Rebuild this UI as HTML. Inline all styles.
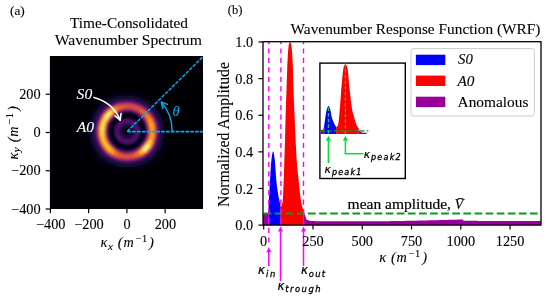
<!DOCTYPE html>
<html><head><meta charset="utf-8"><title>WRF figure</title>
<style>html,body{margin:0;padding:0;background:#fff}svg{display:block}text{font-family:"Liberation Serif", serif;fill:#000;stroke:#000;stroke-width:0.1px}.m{font-family:"DejaVu Sans",sans-serif;font-style:italic}.sb{font-family:"DejaVu Sans",sans-serif;font-style:italic;stroke:#000;stroke-width:0.3px}.si{font-style:italic}.bd{stroke:#000;stroke-width:0.2px}</style></head><body>
<svg width="550" height="299" viewBox="0 0 550 299">
<rect width="550" height="299" fill="#fff"/>
<defs>
<radialGradient id="g0" gradientUnits="userSpaceOnUse" cx="127.2" cy="131.4" r="42.0"><stop offset="0.0000" stop-color="#010108"/><stop offset="0.0238" stop-color="#010108"/><stop offset="0.0476" stop-color="#02020c"/><stop offset="0.0714" stop-color="#07051b"/><stop offset="0.0952" stop-color="#150b37"/><stop offset="0.1190" stop-color="#190c3e"/><stop offset="0.1429" stop-color="#150b37"/><stop offset="0.1667" stop-color="#1b0c41"/><stop offset="0.1905" stop-color="#380962"/><stop offset="0.2143" stop-color="#57106e"/><stop offset="0.2381" stop-color="#64156e"/><stop offset="0.2619" stop-color="#57106e"/><stop offset="0.2857" stop-color="#380962"/><stop offset="0.3095" stop-color="#160b39"/><stop offset="0.3333" stop-color="#07051b"/><stop offset="0.3571" stop-color="#02020e"/><stop offset="0.3810" stop-color="#02020c"/><stop offset="0.4048" stop-color="#040312"/><stop offset="0.4286" stop-color="#09061f"/><stop offset="0.4524" stop-color="#1c0c43"/><stop offset="0.4762" stop-color="#4c0c6b"/><stop offset="0.5000" stop-color="#8c2369"/><stop offset="0.5238" stop-color="#cf4446"/><stop offset="0.5476" stop-color="#f47918"/><stop offset="0.5714" stop-color="#fca108"/><stop offset="0.5952" stop-color="#fcac11"/><stop offset="0.6190" stop-color="#fca50a"/><stop offset="0.6429" stop-color="#f8850f"/><stop offset="0.6667" stop-color="#e05536"/><stop offset="0.6905" stop-color="#ab2f5e"/><stop offset="0.7143" stop-color="#741a6e"/><stop offset="0.7381" stop-color="#4c0c6b"/><stop offset="0.7619" stop-color="#320a5e"/><stop offset="0.7857" stop-color="#230c4c"/><stop offset="0.8095" stop-color="#190c3e"/><stop offset="0.8333" stop-color="#120a32"/><stop offset="0.8571" stop-color="#0d0829"/><stop offset="0.8810" stop-color="#09061f"/><stop offset="0.9048" stop-color="#060419"/><stop offset="0.9286" stop-color="#040314"/><stop offset="0.9524" stop-color="#030210"/><stop offset="0.9762" stop-color="#02020e"/><stop offset="1.0000" stop-color="#02020c"/></radialGradient>
<radialGradient id="g1" gradientUnits="userSpaceOnUse" cx="127.2" cy="131.4" r="42.0"><stop offset="0.0000" stop-color="#010108"/><stop offset="0.0238" stop-color="#010108"/><stop offset="0.0476" stop-color="#02020c"/><stop offset="0.0714" stop-color="#07051b"/><stop offset="0.0952" stop-color="#150b37"/><stop offset="0.1190" stop-color="#190c3e"/><stop offset="0.1429" stop-color="#150b37"/><stop offset="0.1667" stop-color="#1b0c41"/><stop offset="0.1905" stop-color="#380962"/><stop offset="0.2143" stop-color="#57106e"/><stop offset="0.2381" stop-color="#64156e"/><stop offset="0.2619" stop-color="#57106e"/><stop offset="0.2857" stop-color="#380962"/><stop offset="0.3095" stop-color="#160b39"/><stop offset="0.3333" stop-color="#07051b"/><stop offset="0.3571" stop-color="#02020e"/><stop offset="0.3810" stop-color="#02020c"/><stop offset="0.4048" stop-color="#040312"/><stop offset="0.4286" stop-color="#09061f"/><stop offset="0.4524" stop-color="#1e0c45"/><stop offset="0.4762" stop-color="#4d0d6c"/><stop offset="0.5000" stop-color="#8d2369"/><stop offset="0.5238" stop-color="#d34743"/><stop offset="0.5476" stop-color="#f68013"/><stop offset="0.5714" stop-color="#fca80d"/><stop offset="0.5952" stop-color="#fcb418"/><stop offset="0.6190" stop-color="#fcac11"/><stop offset="0.6429" stop-color="#f98c0a"/><stop offset="0.6667" stop-color="#e35933"/><stop offset="0.6905" stop-color="#ae305c"/><stop offset="0.7143" stop-color="#751b6e"/><stop offset="0.7381" stop-color="#4d0d6c"/><stop offset="0.7619" stop-color="#340a5f"/><stop offset="0.7857" stop-color="#240c4f"/><stop offset="0.8095" stop-color="#1b0c41"/><stop offset="0.8333" stop-color="#140b34"/><stop offset="0.8571" stop-color="#0d0829"/><stop offset="0.8810" stop-color="#0a0722"/><stop offset="0.9048" stop-color="#07051b"/><stop offset="0.9286" stop-color="#040314"/><stop offset="0.9524" stop-color="#030210"/><stop offset="0.9762" stop-color="#02020e"/><stop offset="1.0000" stop-color="#02020c"/></radialGradient>
<radialGradient id="g2" gradientUnits="userSpaceOnUse" cx="127.2" cy="131.4" r="42.0"><stop offset="0.0000" stop-color="#010108"/><stop offset="0.0238" stop-color="#010108"/><stop offset="0.0476" stop-color="#02020c"/><stop offset="0.0714" stop-color="#07051b"/><stop offset="0.0952" stop-color="#150b37"/><stop offset="0.1190" stop-color="#190c3e"/><stop offset="0.1429" stop-color="#150b37"/><stop offset="0.1667" stop-color="#1b0c41"/><stop offset="0.1905" stop-color="#380962"/><stop offset="0.2143" stop-color="#57106e"/><stop offset="0.2381" stop-color="#64156e"/><stop offset="0.2619" stop-color="#57106e"/><stop offset="0.2857" stop-color="#380962"/><stop offset="0.3095" stop-color="#160b39"/><stop offset="0.3333" stop-color="#07051b"/><stop offset="0.3571" stop-color="#02020e"/><stop offset="0.3810" stop-color="#02020c"/><stop offset="0.4048" stop-color="#030210"/><stop offset="0.4286" stop-color="#09061f"/><stop offset="0.4524" stop-color="#1b0c41"/><stop offset="0.4762" stop-color="#490b6a"/><stop offset="0.5000" stop-color="#87216b"/><stop offset="0.5238" stop-color="#ca404a"/><stop offset="0.5476" stop-color="#f1731d"/><stop offset="0.5714" stop-color="#fb9706"/><stop offset="0.5952" stop-color="#fca309"/><stop offset="0.6190" stop-color="#fb9b06"/><stop offset="0.6429" stop-color="#f57d15"/><stop offset="0.6667" stop-color="#db503b"/><stop offset="0.6905" stop-color="#a62d60"/><stop offset="0.7143" stop-color="#71196e"/><stop offset="0.7381" stop-color="#490b6a"/><stop offset="0.7619" stop-color="#310a5c"/><stop offset="0.7857" stop-color="#210c4a"/><stop offset="0.8095" stop-color="#180c3c"/><stop offset="0.8333" stop-color="#120a32"/><stop offset="0.8571" stop-color="#0d0829"/><stop offset="0.8810" stop-color="#09061f"/><stop offset="0.9048" stop-color="#060419"/><stop offset="0.9286" stop-color="#040314"/><stop offset="0.9524" stop-color="#030210"/><stop offset="0.9762" stop-color="#02020e"/><stop offset="1.0000" stop-color="#02020c"/></radialGradient>
<radialGradient id="g3" gradientUnits="userSpaceOnUse" cx="127.2" cy="131.4" r="42.0"><stop offset="0.0000" stop-color="#010108"/><stop offset="0.0238" stop-color="#010108"/><stop offset="0.0476" stop-color="#02020c"/><stop offset="0.0714" stop-color="#07051b"/><stop offset="0.0952" stop-color="#150b37"/><stop offset="0.1190" stop-color="#190c3e"/><stop offset="0.1429" stop-color="#150b37"/><stop offset="0.1667" stop-color="#1b0c41"/><stop offset="0.1905" stop-color="#380962"/><stop offset="0.2143" stop-color="#57106e"/><stop offset="0.2381" stop-color="#64156e"/><stop offset="0.2619" stop-color="#57106e"/><stop offset="0.2857" stop-color="#380962"/><stop offset="0.3095" stop-color="#160b39"/><stop offset="0.3333" stop-color="#07051b"/><stop offset="0.3571" stop-color="#02020e"/><stop offset="0.3810" stop-color="#02020c"/><stop offset="0.4048" stop-color="#030210"/><stop offset="0.4286" stop-color="#08051d"/><stop offset="0.4524" stop-color="#190c3e"/><stop offset="0.4762" stop-color="#440a68"/><stop offset="0.5000" stop-color="#7d1e6d"/><stop offset="0.5238" stop-color="#bd3853"/><stop offset="0.5476" stop-color="#e8602d"/><stop offset="0.5714" stop-color="#f68013"/><stop offset="0.5952" stop-color="#f8890c"/><stop offset="0.6190" stop-color="#f78410"/><stop offset="0.6429" stop-color="#ed6925"/><stop offset="0.6667" stop-color="#cf4446"/><stop offset="0.6905" stop-color="#9b2964"/><stop offset="0.7143" stop-color="#69166e"/><stop offset="0.7381" stop-color="#440a68"/><stop offset="0.7619" stop-color="#2b0b57"/><stop offset="0.7857" stop-color="#1e0c45"/><stop offset="0.8095" stop-color="#160b39"/><stop offset="0.8333" stop-color="#10092d"/><stop offset="0.8571" stop-color="#0c0826"/><stop offset="0.8810" stop-color="#08051d"/><stop offset="0.9048" stop-color="#060419"/><stop offset="0.9286" stop-color="#040312"/><stop offset="0.9524" stop-color="#030210"/><stop offset="0.9762" stop-color="#02020e"/><stop offset="1.0000" stop-color="#02020c"/></radialGradient>
<radialGradient id="g4" gradientUnits="userSpaceOnUse" cx="127.2" cy="131.4" r="42.0"><stop offset="0.0000" stop-color="#010108"/><stop offset="0.0238" stop-color="#010108"/><stop offset="0.0476" stop-color="#02020c"/><stop offset="0.0714" stop-color="#07051b"/><stop offset="0.0952" stop-color="#150b37"/><stop offset="0.1190" stop-color="#190c3e"/><stop offset="0.1429" stop-color="#150b37"/><stop offset="0.1667" stop-color="#1b0c41"/><stop offset="0.1905" stop-color="#380962"/><stop offset="0.2143" stop-color="#57106e"/><stop offset="0.2381" stop-color="#64156e"/><stop offset="0.2619" stop-color="#57106e"/><stop offset="0.2857" stop-color="#380962"/><stop offset="0.3095" stop-color="#160b39"/><stop offset="0.3333" stop-color="#07051b"/><stop offset="0.3571" stop-color="#02020e"/><stop offset="0.3810" stop-color="#02020c"/><stop offset="0.4048" stop-color="#030210"/><stop offset="0.4286" stop-color="#07051b"/><stop offset="0.4524" stop-color="#160b39"/><stop offset="0.4762" stop-color="#3d0965"/><stop offset="0.5000" stop-color="#721a6e"/><stop offset="0.5238" stop-color="#ae305c"/><stop offset="0.5476" stop-color="#da4e3c"/><stop offset="0.5714" stop-color="#ed6925"/><stop offset="0.5952" stop-color="#f1711f"/><stop offset="0.6190" stop-color="#ef6c23"/><stop offset="0.6429" stop-color="#e15635"/><stop offset="0.6667" stop-color="#c03a51"/><stop offset="0.6905" stop-color="#8d2369"/><stop offset="0.7143" stop-color="#5f136e"/><stop offset="0.7381" stop-color="#3d0965"/><stop offset="0.7619" stop-color="#280b53"/><stop offset="0.7857" stop-color="#1b0c41"/><stop offset="0.8095" stop-color="#140b34"/><stop offset="0.8333" stop-color="#0e092b"/><stop offset="0.8571" stop-color="#0a0722"/><stop offset="0.8810" stop-color="#07051b"/><stop offset="0.9048" stop-color="#050417"/><stop offset="0.9286" stop-color="#040312"/><stop offset="0.9524" stop-color="#02020e"/><stop offset="0.9762" stop-color="#02020c"/><stop offset="1.0000" stop-color="#02010a"/></radialGradient>
<radialGradient id="g5" gradientUnits="userSpaceOnUse" cx="127.2" cy="131.4" r="42.0"><stop offset="0.0000" stop-color="#010108"/><stop offset="0.0238" stop-color="#010108"/><stop offset="0.0476" stop-color="#02020c"/><stop offset="0.0714" stop-color="#07051b"/><stop offset="0.0952" stop-color="#150b37"/><stop offset="0.1190" stop-color="#190c3e"/><stop offset="0.1429" stop-color="#150b37"/><stop offset="0.1667" stop-color="#1b0c41"/><stop offset="0.1905" stop-color="#380962"/><stop offset="0.2143" stop-color="#57106e"/><stop offset="0.2381" stop-color="#64156e"/><stop offset="0.2619" stop-color="#57106e"/><stop offset="0.2857" stop-color="#380962"/><stop offset="0.3095" stop-color="#160b39"/><stop offset="0.3333" stop-color="#07051b"/><stop offset="0.3571" stop-color="#02020e"/><stop offset="0.3810" stop-color="#02020c"/><stop offset="0.4048" stop-color="#030210"/><stop offset="0.4286" stop-color="#07051b"/><stop offset="0.4524" stop-color="#140b34"/><stop offset="0.4762" stop-color="#380962"/><stop offset="0.5000" stop-color="#6c186e"/><stop offset="0.5238" stop-color="#a32c61"/><stop offset="0.5476" stop-color="#d04545"/><stop offset="0.5714" stop-color="#e45a31"/><stop offset="0.5952" stop-color="#e9612b"/><stop offset="0.6190" stop-color="#e65d2f"/><stop offset="0.6429" stop-color="#d74b3f"/><stop offset="0.6667" stop-color="#b43359"/><stop offset="0.6905" stop-color="#85216b"/><stop offset="0.7143" stop-color="#59106e"/><stop offset="0.7381" stop-color="#380962"/><stop offset="0.7619" stop-color="#240c4f"/><stop offset="0.7857" stop-color="#190c3e"/><stop offset="0.8095" stop-color="#120a32"/><stop offset="0.8333" stop-color="#0d0829"/><stop offset="0.8571" stop-color="#0a0722"/><stop offset="0.8810" stop-color="#07051b"/><stop offset="0.9048" stop-color="#050417"/><stop offset="0.9286" stop-color="#040312"/><stop offset="0.9524" stop-color="#02020e"/><stop offset="0.9762" stop-color="#02020c"/><stop offset="1.0000" stop-color="#02010a"/></radialGradient>
<radialGradient id="g6" gradientUnits="userSpaceOnUse" cx="127.2" cy="131.4" r="42.0"><stop offset="0.0000" stop-color="#010108"/><stop offset="0.0238" stop-color="#010108"/><stop offset="0.0476" stop-color="#02020c"/><stop offset="0.0714" stop-color="#07051b"/><stop offset="0.0952" stop-color="#150b37"/><stop offset="0.1190" stop-color="#190c3e"/><stop offset="0.1429" stop-color="#150b37"/><stop offset="0.1667" stop-color="#1b0c41"/><stop offset="0.1905" stop-color="#380962"/><stop offset="0.2143" stop-color="#57106e"/><stop offset="0.2381" stop-color="#64156e"/><stop offset="0.2619" stop-color="#57106e"/><stop offset="0.2857" stop-color="#380962"/><stop offset="0.3095" stop-color="#160b39"/><stop offset="0.3333" stop-color="#07051b"/><stop offset="0.3571" stop-color="#02020e"/><stop offset="0.3810" stop-color="#02020c"/><stop offset="0.4048" stop-color="#02020e"/><stop offset="0.4286" stop-color="#060419"/><stop offset="0.4524" stop-color="#140b34"/><stop offset="0.4762" stop-color="#340a5f"/><stop offset="0.5000" stop-color="#65156e"/><stop offset="0.5238" stop-color="#9b2964"/><stop offset="0.5476" stop-color="#c73e4c"/><stop offset="0.5714" stop-color="#dd513a"/><stop offset="0.5952" stop-color="#e15635"/><stop offset="0.6190" stop-color="#de5238"/><stop offset="0.6429" stop-color="#cf4446"/><stop offset="0.6667" stop-color="#ad305d"/><stop offset="0.6905" stop-color="#7f1e6c"/><stop offset="0.7143" stop-color="#540f6d"/><stop offset="0.7381" stop-color="#340a5f"/><stop offset="0.7619" stop-color="#210c4a"/><stop offset="0.7857" stop-color="#180c3c"/><stop offset="0.8095" stop-color="#110a30"/><stop offset="0.8333" stop-color="#0c0826"/><stop offset="0.8571" stop-color="#09061f"/><stop offset="0.8810" stop-color="#060419"/><stop offset="0.9048" stop-color="#040314"/><stop offset="0.9286" stop-color="#030210"/><stop offset="0.9524" stop-color="#02020e"/><stop offset="0.9762" stop-color="#02020c"/><stop offset="1.0000" stop-color="#02010a"/></radialGradient>
<radialGradient id="g7" gradientUnits="userSpaceOnUse" cx="127.2" cy="131.4" r="42.0"><stop offset="0.0000" stop-color="#010108"/><stop offset="0.0238" stop-color="#010108"/><stop offset="0.0476" stop-color="#02020c"/><stop offset="0.0714" stop-color="#07051b"/><stop offset="0.0952" stop-color="#150b37"/><stop offset="0.1190" stop-color="#190c3e"/><stop offset="0.1429" stop-color="#150b37"/><stop offset="0.1667" stop-color="#1b0c41"/><stop offset="0.1905" stop-color="#380962"/><stop offset="0.2143" stop-color="#57106e"/><stop offset="0.2381" stop-color="#64156e"/><stop offset="0.2619" stop-color="#57106e"/><stop offset="0.2857" stop-color="#380962"/><stop offset="0.3095" stop-color="#160b39"/><stop offset="0.3333" stop-color="#07051b"/><stop offset="0.3571" stop-color="#02020e"/><stop offset="0.3810" stop-color="#02020c"/><stop offset="0.4048" stop-color="#02020e"/><stop offset="0.4286" stop-color="#060419"/><stop offset="0.4524" stop-color="#120a32"/><stop offset="0.4762" stop-color="#340a5f"/><stop offset="0.5000" stop-color="#64156e"/><stop offset="0.5238" stop-color="#9a2865"/><stop offset="0.5476" stop-color="#c43c4e"/><stop offset="0.5714" stop-color="#da4e3c"/><stop offset="0.5952" stop-color="#df5337"/><stop offset="0.6190" stop-color="#db503b"/><stop offset="0.6429" stop-color="#cc4248"/><stop offset="0.6667" stop-color="#a92e5e"/><stop offset="0.6905" stop-color="#7d1e6d"/><stop offset="0.7143" stop-color="#520e6d"/><stop offset="0.7381" stop-color="#340a5f"/><stop offset="0.7619" stop-color="#210c4a"/><stop offset="0.7857" stop-color="#160b39"/><stop offset="0.8095" stop-color="#110a30"/><stop offset="0.8333" stop-color="#0c0826"/><stop offset="0.8571" stop-color="#09061f"/><stop offset="0.8810" stop-color="#060419"/><stop offset="0.9048" stop-color="#040314"/><stop offset="0.9286" stop-color="#030210"/><stop offset="0.9524" stop-color="#02020e"/><stop offset="0.9762" stop-color="#02020c"/><stop offset="1.0000" stop-color="#02010a"/></radialGradient>
<radialGradient id="g8" gradientUnits="userSpaceOnUse" cx="127.2" cy="131.4" r="42.0"><stop offset="0.0000" stop-color="#010108"/><stop offset="0.0238" stop-color="#010108"/><stop offset="0.0476" stop-color="#02020c"/><stop offset="0.0714" stop-color="#07051b"/><stop offset="0.0952" stop-color="#150b37"/><stop offset="0.1190" stop-color="#190c3e"/><stop offset="0.1429" stop-color="#150b37"/><stop offset="0.1667" stop-color="#1b0c41"/><stop offset="0.1905" stop-color="#380962"/><stop offset="0.2143" stop-color="#57106e"/><stop offset="0.2381" stop-color="#64156e"/><stop offset="0.2619" stop-color="#57106e"/><stop offset="0.2857" stop-color="#380962"/><stop offset="0.3095" stop-color="#160b39"/><stop offset="0.3333" stop-color="#07051b"/><stop offset="0.3571" stop-color="#02020e"/><stop offset="0.3810" stop-color="#02020c"/><stop offset="0.4048" stop-color="#02020e"/><stop offset="0.4286" stop-color="#060419"/><stop offset="0.4524" stop-color="#120a32"/><stop offset="0.4762" stop-color="#320a5e"/><stop offset="0.5000" stop-color="#64156e"/><stop offset="0.5238" stop-color="#982766"/><stop offset="0.5476" stop-color="#c43c4e"/><stop offset="0.5714" stop-color="#d94d3d"/><stop offset="0.5952" stop-color="#df5337"/><stop offset="0.6190" stop-color="#db503b"/><stop offset="0.6429" stop-color="#cb4149"/><stop offset="0.6667" stop-color="#a92e5e"/><stop offset="0.6905" stop-color="#7c1d6d"/><stop offset="0.7143" stop-color="#520e6d"/><stop offset="0.7381" stop-color="#340a5f"/><stop offset="0.7619" stop-color="#210c4a"/><stop offset="0.7857" stop-color="#160b39"/><stop offset="0.8095" stop-color="#110a30"/><stop offset="0.8333" stop-color="#0c0826"/><stop offset="0.8571" stop-color="#09061f"/><stop offset="0.8810" stop-color="#060419"/><stop offset="0.9048" stop-color="#040314"/><stop offset="0.9286" stop-color="#030210"/><stop offset="0.9524" stop-color="#02020e"/><stop offset="0.9762" stop-color="#02020c"/><stop offset="1.0000" stop-color="#02010a"/></radialGradient>
<radialGradient id="g9" gradientUnits="userSpaceOnUse" cx="127.2" cy="131.4" r="42.0"><stop offset="0.0000" stop-color="#010108"/><stop offset="0.0238" stop-color="#010108"/><stop offset="0.0476" stop-color="#02020c"/><stop offset="0.0714" stop-color="#07051b"/><stop offset="0.0952" stop-color="#150b37"/><stop offset="0.1190" stop-color="#190c3e"/><stop offset="0.1429" stop-color="#150b37"/><stop offset="0.1667" stop-color="#1b0c41"/><stop offset="0.1905" stop-color="#380962"/><stop offset="0.2143" stop-color="#57106e"/><stop offset="0.2381" stop-color="#64156e"/><stop offset="0.2619" stop-color="#57106e"/><stop offset="0.2857" stop-color="#380962"/><stop offset="0.3095" stop-color="#160b39"/><stop offset="0.3333" stop-color="#07051b"/><stop offset="0.3571" stop-color="#02020e"/><stop offset="0.3810" stop-color="#02020c"/><stop offset="0.4048" stop-color="#02020e"/><stop offset="0.4286" stop-color="#060419"/><stop offset="0.4524" stop-color="#120a32"/><stop offset="0.4762" stop-color="#340a5f"/><stop offset="0.5000" stop-color="#65156e"/><stop offset="0.5238" stop-color="#9a2865"/><stop offset="0.5476" stop-color="#c63d4d"/><stop offset="0.5714" stop-color="#db503b"/><stop offset="0.5952" stop-color="#e05536"/><stop offset="0.6190" stop-color="#dd513a"/><stop offset="0.6429" stop-color="#cc4248"/><stop offset="0.6667" stop-color="#ab2f5e"/><stop offset="0.6905" stop-color="#7d1e6d"/><stop offset="0.7143" stop-color="#540f6d"/><stop offset="0.7381" stop-color="#340a5f"/><stop offset="0.7619" stop-color="#210c4a"/><stop offset="0.7857" stop-color="#160b39"/><stop offset="0.8095" stop-color="#110a30"/><stop offset="0.8333" stop-color="#0c0826"/><stop offset="0.8571" stop-color="#09061f"/><stop offset="0.8810" stop-color="#060419"/><stop offset="0.9048" stop-color="#040314"/><stop offset="0.9286" stop-color="#030210"/><stop offset="0.9524" stop-color="#02020e"/><stop offset="0.9762" stop-color="#02020c"/><stop offset="1.0000" stop-color="#02010a"/></radialGradient>
<radialGradient id="g10" gradientUnits="userSpaceOnUse" cx="127.2" cy="131.4" r="42.0"><stop offset="0.0000" stop-color="#010108"/><stop offset="0.0238" stop-color="#010108"/><stop offset="0.0476" stop-color="#02020c"/><stop offset="0.0714" stop-color="#07051b"/><stop offset="0.0952" stop-color="#150b37"/><stop offset="0.1190" stop-color="#190c3e"/><stop offset="0.1429" stop-color="#150b37"/><stop offset="0.1667" stop-color="#1b0c41"/><stop offset="0.1905" stop-color="#380962"/><stop offset="0.2143" stop-color="#57106e"/><stop offset="0.2381" stop-color="#64156e"/><stop offset="0.2619" stop-color="#57106e"/><stop offset="0.2857" stop-color="#380962"/><stop offset="0.3095" stop-color="#160b39"/><stop offset="0.3333" stop-color="#07051b"/><stop offset="0.3571" stop-color="#02020e"/><stop offset="0.3810" stop-color="#02020c"/><stop offset="0.4048" stop-color="#030210"/><stop offset="0.4286" stop-color="#07051b"/><stop offset="0.4524" stop-color="#150b37"/><stop offset="0.4762" stop-color="#380962"/><stop offset="0.5000" stop-color="#6c186e"/><stop offset="0.5238" stop-color="#a52c60"/><stop offset="0.5476" stop-color="#d04545"/><stop offset="0.5714" stop-color="#e55c30"/><stop offset="0.5952" stop-color="#e9612b"/><stop offset="0.6190" stop-color="#e65d2f"/><stop offset="0.6429" stop-color="#d84c3e"/><stop offset="0.6667" stop-color="#b63458"/><stop offset="0.6905" stop-color="#85216b"/><stop offset="0.7143" stop-color="#59106e"/><stop offset="0.7381" stop-color="#390963"/><stop offset="0.7619" stop-color="#240c4f"/><stop offset="0.7857" stop-color="#190c3e"/><stop offset="0.8095" stop-color="#120a32"/><stop offset="0.8333" stop-color="#0d0829"/><stop offset="0.8571" stop-color="#0a0722"/><stop offset="0.8810" stop-color="#07051b"/><stop offset="0.9048" stop-color="#050417"/><stop offset="0.9286" stop-color="#040312"/><stop offset="0.9524" stop-color="#02020e"/><stop offset="0.9762" stop-color="#02020c"/><stop offset="1.0000" stop-color="#02010a"/></radialGradient>
<radialGradient id="g11" gradientUnits="userSpaceOnUse" cx="127.2" cy="131.4" r="42.0"><stop offset="0.0000" stop-color="#010108"/><stop offset="0.0238" stop-color="#010108"/><stop offset="0.0476" stop-color="#02020c"/><stop offset="0.0714" stop-color="#07051b"/><stop offset="0.0952" stop-color="#150b37"/><stop offset="0.1190" stop-color="#190c3e"/><stop offset="0.1429" stop-color="#150b37"/><stop offset="0.1667" stop-color="#1b0c41"/><stop offset="0.1905" stop-color="#380962"/><stop offset="0.2143" stop-color="#57106e"/><stop offset="0.2381" stop-color="#64156e"/><stop offset="0.2619" stop-color="#57106e"/><stop offset="0.2857" stop-color="#380962"/><stop offset="0.3095" stop-color="#160b39"/><stop offset="0.3333" stop-color="#07051b"/><stop offset="0.3571" stop-color="#02020e"/><stop offset="0.3810" stop-color="#02020c"/><stop offset="0.4048" stop-color="#030210"/><stop offset="0.4286" stop-color="#08051d"/><stop offset="0.4524" stop-color="#180c3c"/><stop offset="0.4762" stop-color="#400a67"/><stop offset="0.5000" stop-color="#781c6d"/><stop offset="0.5238" stop-color="#b73557"/><stop offset="0.5476" stop-color="#e35933"/><stop offset="0.5714" stop-color="#f3761b"/><stop offset="0.5952" stop-color="#f68013"/><stop offset="0.6190" stop-color="#f47918"/><stop offset="0.6429" stop-color="#e9612b"/><stop offset="0.6667" stop-color="#c83f4b"/><stop offset="0.6905" stop-color="#952667"/><stop offset="0.7143" stop-color="#64156e"/><stop offset="0.7381" stop-color="#400a67"/><stop offset="0.7619" stop-color="#290b55"/><stop offset="0.7857" stop-color="#1c0c43"/><stop offset="0.8095" stop-color="#150b37"/><stop offset="0.8333" stop-color="#10092d"/><stop offset="0.8571" stop-color="#0b0724"/><stop offset="0.8810" stop-color="#08051d"/><stop offset="0.9048" stop-color="#050417"/><stop offset="0.9286" stop-color="#040312"/><stop offset="0.9524" stop-color="#030210"/><stop offset="0.9762" stop-color="#02020c"/><stop offset="1.0000" stop-color="#02020c"/></radialGradient>
<radialGradient id="g12" gradientUnits="userSpaceOnUse" cx="127.2" cy="131.4" r="42.0"><stop offset="0.0000" stop-color="#010108"/><stop offset="0.0238" stop-color="#010108"/><stop offset="0.0476" stop-color="#02020c"/><stop offset="0.0714" stop-color="#07051b"/><stop offset="0.0952" stop-color="#150b37"/><stop offset="0.1190" stop-color="#190c3e"/><stop offset="0.1429" stop-color="#150b37"/><stop offset="0.1667" stop-color="#1b0c41"/><stop offset="0.1905" stop-color="#380962"/><stop offset="0.2143" stop-color="#57106e"/><stop offset="0.2381" stop-color="#64156e"/><stop offset="0.2619" stop-color="#57106e"/><stop offset="0.2857" stop-color="#380962"/><stop offset="0.3095" stop-color="#160b39"/><stop offset="0.3333" stop-color="#07051b"/><stop offset="0.3571" stop-color="#02020e"/><stop offset="0.3810" stop-color="#02020c"/><stop offset="0.4048" stop-color="#040312"/><stop offset="0.4286" stop-color="#0a0722"/><stop offset="0.4524" stop-color="#1f0c48"/><stop offset="0.4762" stop-color="#4f0d6c"/><stop offset="0.5000" stop-color="#932667"/><stop offset="0.5238" stop-color="#d84c3e"/><stop offset="0.5476" stop-color="#f98b0b"/><stop offset="0.5714" stop-color="#fbb61a"/><stop offset="0.5952" stop-color="#fac228"/><stop offset="0.6190" stop-color="#fbba1f"/><stop offset="0.6429" stop-color="#fb9706"/><stop offset="0.6667" stop-color="#e8602d"/><stop offset="0.6905" stop-color="#b43359"/><stop offset="0.7143" stop-color="#7a1d6d"/><stop offset="0.7381" stop-color="#510e6c"/><stop offset="0.7619" stop-color="#360961"/><stop offset="0.7857" stop-color="#260c51"/><stop offset="0.8095" stop-color="#1b0c41"/><stop offset="0.8333" stop-color="#140b34"/><stop offset="0.8571" stop-color="#0e092b"/><stop offset="0.8810" stop-color="#0a0722"/><stop offset="0.9048" stop-color="#07051b"/><stop offset="0.9286" stop-color="#040314"/><stop offset="0.9524" stop-color="#030210"/><stop offset="0.9762" stop-color="#02020e"/><stop offset="1.0000" stop-color="#02020c"/></radialGradient>
<radialGradient id="g13" gradientUnits="userSpaceOnUse" cx="127.2" cy="131.4" r="42.0"><stop offset="0.0000" stop-color="#010108"/><stop offset="0.0238" stop-color="#010108"/><stop offset="0.0476" stop-color="#02020c"/><stop offset="0.0714" stop-color="#07051b"/><stop offset="0.0952" stop-color="#150b37"/><stop offset="0.1190" stop-color="#190c3e"/><stop offset="0.1429" stop-color="#150b37"/><stop offset="0.1667" stop-color="#1b0c41"/><stop offset="0.1905" stop-color="#380962"/><stop offset="0.2143" stop-color="#57106e"/><stop offset="0.2381" stop-color="#64156e"/><stop offset="0.2619" stop-color="#57106e"/><stop offset="0.2857" stop-color="#380962"/><stop offset="0.3095" stop-color="#160b39"/><stop offset="0.3333" stop-color="#07051b"/><stop offset="0.3571" stop-color="#030210"/><stop offset="0.3810" stop-color="#02020e"/><stop offset="0.4048" stop-color="#040314"/><stop offset="0.4286" stop-color="#0b0724"/><stop offset="0.4524" stop-color="#240c4f"/><stop offset="0.4762" stop-color="#5c126e"/><stop offset="0.5000" stop-color="#a82e5f"/><stop offset="0.5238" stop-color="#ec6726"/><stop offset="0.5476" stop-color="#fbba1f"/><stop offset="0.5714" stop-color="#f1ec6d"/><stop offset="0.5952" stop-color="#f3f68a"/><stop offset="0.6190" stop-color="#f1f179"/><stop offset="0.6429" stop-color="#f9c932"/><stop offset="0.6667" stop-color="#f78212"/><stop offset="0.6905" stop-color="#cb4149"/><stop offset="0.7143" stop-color="#8c2369"/><stop offset="0.7381" stop-color="#5c126e"/><stop offset="0.7619" stop-color="#400a67"/><stop offset="0.7857" stop-color="#2d0b59"/><stop offset="0.8095" stop-color="#210c4a"/><stop offset="0.8333" stop-color="#180c3c"/><stop offset="0.8571" stop-color="#110a30"/><stop offset="0.8810" stop-color="#0c0826"/><stop offset="0.9048" stop-color="#08051d"/><stop offset="0.9286" stop-color="#050417"/><stop offset="0.9524" stop-color="#040312"/><stop offset="0.9762" stop-color="#02020e"/><stop offset="1.0000" stop-color="#02020c"/></radialGradient>
<radialGradient id="g14" gradientUnits="userSpaceOnUse" cx="127.2" cy="131.4" r="42.0"><stop offset="0.0000" stop-color="#010108"/><stop offset="0.0238" stop-color="#010108"/><stop offset="0.0476" stop-color="#02020c"/><stop offset="0.0714" stop-color="#07051b"/><stop offset="0.0952" stop-color="#150b37"/><stop offset="0.1190" stop-color="#190c3e"/><stop offset="0.1429" stop-color="#150b37"/><stop offset="0.1667" stop-color="#1b0c41"/><stop offset="0.1905" stop-color="#380962"/><stop offset="0.2143" stop-color="#57106e"/><stop offset="0.2381" stop-color="#64156e"/><stop offset="0.2619" stop-color="#57106e"/><stop offset="0.2857" stop-color="#380962"/><stop offset="0.3095" stop-color="#160b39"/><stop offset="0.3333" stop-color="#07051b"/><stop offset="0.3571" stop-color="#030210"/><stop offset="0.3810" stop-color="#02020e"/><stop offset="0.4048" stop-color="#040314"/><stop offset="0.4286" stop-color="#0c0826"/><stop offset="0.4524" stop-color="#240c4f"/><stop offset="0.4762" stop-color="#5c126e"/><stop offset="0.5000" stop-color="#a82e5f"/><stop offset="0.5238" stop-color="#ed6925"/><stop offset="0.5476" stop-color="#fbba1f"/><stop offset="0.5714" stop-color="#f1ed71"/><stop offset="0.5952" stop-color="#f4f88e"/><stop offset="0.6190" stop-color="#f2f27d"/><stop offset="0.6429" stop-color="#f9cb35"/><stop offset="0.6667" stop-color="#f78410"/><stop offset="0.6905" stop-color="#cc4248"/><stop offset="0.7143" stop-color="#8d2369"/><stop offset="0.7381" stop-color="#5d126e"/><stop offset="0.7619" stop-color="#400a67"/><stop offset="0.7857" stop-color="#2d0b59"/><stop offset="0.8095" stop-color="#210c4a"/><stop offset="0.8333" stop-color="#180c3c"/><stop offset="0.8571" stop-color="#110a30"/><stop offset="0.8810" stop-color="#0c0826"/><stop offset="0.9048" stop-color="#08051d"/><stop offset="0.9286" stop-color="#050417"/><stop offset="0.9524" stop-color="#040312"/><stop offset="0.9762" stop-color="#02020e"/><stop offset="1.0000" stop-color="#02020c"/></radialGradient>
<radialGradient id="g15" gradientUnits="userSpaceOnUse" cx="127.2" cy="131.4" r="42.0"><stop offset="0.0000" stop-color="#010108"/><stop offset="0.0238" stop-color="#010108"/><stop offset="0.0476" stop-color="#02020c"/><stop offset="0.0714" stop-color="#07051b"/><stop offset="0.0952" stop-color="#150b37"/><stop offset="0.1190" stop-color="#190c3e"/><stop offset="0.1429" stop-color="#150b37"/><stop offset="0.1667" stop-color="#1b0c41"/><stop offset="0.1905" stop-color="#380962"/><stop offset="0.2143" stop-color="#57106e"/><stop offset="0.2381" stop-color="#64156e"/><stop offset="0.2619" stop-color="#57106e"/><stop offset="0.2857" stop-color="#380962"/><stop offset="0.3095" stop-color="#160b39"/><stop offset="0.3333" stop-color="#07051b"/><stop offset="0.3571" stop-color="#030210"/><stop offset="0.3810" stop-color="#02020e"/><stop offset="0.4048" stop-color="#040312"/><stop offset="0.4286" stop-color="#0b0724"/><stop offset="0.4524" stop-color="#230c4c"/><stop offset="0.4762" stop-color="#59106e"/><stop offset="0.5000" stop-color="#a22b62"/><stop offset="0.5238" stop-color="#e75e2e"/><stop offset="0.5476" stop-color="#fcaa0f"/><stop offset="0.5714" stop-color="#f5db4c"/><stop offset="0.5952" stop-color="#f2e865"/><stop offset="0.6190" stop-color="#f4e156"/><stop offset="0.6429" stop-color="#fbba1f"/><stop offset="0.6667" stop-color="#f37819"/><stop offset="0.6905" stop-color="#c43c4e"/><stop offset="0.7143" stop-color="#87216b"/><stop offset="0.7381" stop-color="#59106e"/><stop offset="0.7619" stop-color="#3d0965"/><stop offset="0.7857" stop-color="#2b0b57"/><stop offset="0.8095" stop-color="#1f0c48"/><stop offset="0.8333" stop-color="#160b39"/><stop offset="0.8571" stop-color="#10092d"/><stop offset="0.8810" stop-color="#0b0724"/><stop offset="0.9048" stop-color="#08051d"/><stop offset="0.9286" stop-color="#050417"/><stop offset="0.9524" stop-color="#040312"/><stop offset="0.9762" stop-color="#02020e"/><stop offset="1.0000" stop-color="#02020c"/></radialGradient>
<radialGradient id="g16" gradientUnits="userSpaceOnUse" cx="127.2" cy="131.4" r="42.0"><stop offset="0.0000" stop-color="#010108"/><stop offset="0.0238" stop-color="#010108"/><stop offset="0.0476" stop-color="#02020c"/><stop offset="0.0714" stop-color="#07051b"/><stop offset="0.0952" stop-color="#150b37"/><stop offset="0.1190" stop-color="#190c3e"/><stop offset="0.1429" stop-color="#150b37"/><stop offset="0.1667" stop-color="#1b0c41"/><stop offset="0.1905" stop-color="#380962"/><stop offset="0.2143" stop-color="#57106e"/><stop offset="0.2381" stop-color="#64156e"/><stop offset="0.2619" stop-color="#57106e"/><stop offset="0.2857" stop-color="#380962"/><stop offset="0.3095" stop-color="#160b39"/><stop offset="0.3333" stop-color="#07051b"/><stop offset="0.3571" stop-color="#030210"/><stop offset="0.3810" stop-color="#02020e"/><stop offset="0.4048" stop-color="#040312"/><stop offset="0.4286" stop-color="#0b0724"/><stop offset="0.4524" stop-color="#230c4c"/><stop offset="0.4762" stop-color="#59106e"/><stop offset="0.5000" stop-color="#a22b62"/><stop offset="0.5238" stop-color="#e75e2e"/><stop offset="0.5476" stop-color="#fcaa0f"/><stop offset="0.5714" stop-color="#f5db4c"/><stop offset="0.5952" stop-color="#f2e865"/><stop offset="0.6190" stop-color="#f4e156"/><stop offset="0.6429" stop-color="#fbba1f"/><stop offset="0.6667" stop-color="#f37819"/><stop offset="0.6905" stop-color="#c43c4e"/><stop offset="0.7143" stop-color="#87216b"/><stop offset="0.7381" stop-color="#59106e"/><stop offset="0.7619" stop-color="#3d0965"/><stop offset="0.7857" stop-color="#2b0b57"/><stop offset="0.8095" stop-color="#1f0c48"/><stop offset="0.8333" stop-color="#160b39"/><stop offset="0.8571" stop-color="#10092d"/><stop offset="0.8810" stop-color="#0b0724"/><stop offset="0.9048" stop-color="#08051d"/><stop offset="0.9286" stop-color="#050417"/><stop offset="0.9524" stop-color="#040312"/><stop offset="0.9762" stop-color="#02020e"/><stop offset="1.0000" stop-color="#02020c"/></radialGradient>
<radialGradient id="g17" gradientUnits="userSpaceOnUse" cx="127.2" cy="131.4" r="42.0"><stop offset="0.0000" stop-color="#010108"/><stop offset="0.0238" stop-color="#010108"/><stop offset="0.0476" stop-color="#02020c"/><stop offset="0.0714" stop-color="#07051b"/><stop offset="0.0952" stop-color="#150b37"/><stop offset="0.1190" stop-color="#190c3e"/><stop offset="0.1429" stop-color="#150b37"/><stop offset="0.1667" stop-color="#1b0c41"/><stop offset="0.1905" stop-color="#380962"/><stop offset="0.2143" stop-color="#57106e"/><stop offset="0.2381" stop-color="#64156e"/><stop offset="0.2619" stop-color="#57106e"/><stop offset="0.2857" stop-color="#380962"/><stop offset="0.3095" stop-color="#160b39"/><stop offset="0.3333" stop-color="#07051b"/><stop offset="0.3571" stop-color="#030210"/><stop offset="0.3810" stop-color="#02020e"/><stop offset="0.4048" stop-color="#040312"/><stop offset="0.4286" stop-color="#0b0724"/><stop offset="0.4524" stop-color="#230c4c"/><stop offset="0.4762" stop-color="#59106e"/><stop offset="0.5000" stop-color="#a32c61"/><stop offset="0.5238" stop-color="#e9612b"/><stop offset="0.5476" stop-color="#fcae12"/><stop offset="0.5714" stop-color="#f4e156"/><stop offset="0.5952" stop-color="#f1ed71"/><stop offset="0.6190" stop-color="#f3e55d"/><stop offset="0.6429" stop-color="#fbbe23"/><stop offset="0.6667" stop-color="#f57b17"/><stop offset="0.6905" stop-color="#c73e4c"/><stop offset="0.7143" stop-color="#88226a"/><stop offset="0.7381" stop-color="#5a116e"/><stop offset="0.7619" stop-color="#3d0965"/><stop offset="0.7857" stop-color="#2b0b57"/><stop offset="0.8095" stop-color="#1f0c48"/><stop offset="0.8333" stop-color="#160b39"/><stop offset="0.8571" stop-color="#10092d"/><stop offset="0.8810" stop-color="#0b0724"/><stop offset="0.9048" stop-color="#08051d"/><stop offset="0.9286" stop-color="#050417"/><stop offset="0.9524" stop-color="#040312"/><stop offset="0.9762" stop-color="#02020e"/><stop offset="1.0000" stop-color="#02020c"/></radialGradient>
<radialGradient id="g18" gradientUnits="userSpaceOnUse" cx="127.2" cy="131.4" r="42.0"><stop offset="0.0000" stop-color="#010108"/><stop offset="0.0238" stop-color="#010108"/><stop offset="0.0476" stop-color="#02020c"/><stop offset="0.0714" stop-color="#07051b"/><stop offset="0.0952" stop-color="#150b37"/><stop offset="0.1190" stop-color="#190c3e"/><stop offset="0.1429" stop-color="#150b37"/><stop offset="0.1667" stop-color="#1b0c41"/><stop offset="0.1905" stop-color="#380962"/><stop offset="0.2143" stop-color="#57106e"/><stop offset="0.2381" stop-color="#64156e"/><stop offset="0.2619" stop-color="#57106e"/><stop offset="0.2857" stop-color="#380962"/><stop offset="0.3095" stop-color="#160b39"/><stop offset="0.3333" stop-color="#07051b"/><stop offset="0.3571" stop-color="#030210"/><stop offset="0.3810" stop-color="#02020e"/><stop offset="0.4048" stop-color="#040312"/><stop offset="0.4286" stop-color="#0b0724"/><stop offset="0.4524" stop-color="#230c4c"/><stop offset="0.4762" stop-color="#57106e"/><stop offset="0.5000" stop-color="#a02a63"/><stop offset="0.5238" stop-color="#e55c30"/><stop offset="0.5476" stop-color="#fca60c"/><stop offset="0.5714" stop-color="#f6d746"/><stop offset="0.5952" stop-color="#f3e55d"/><stop offset="0.6190" stop-color="#f5db4c"/><stop offset="0.6429" stop-color="#fbb61a"/><stop offset="0.6667" stop-color="#f2741c"/><stop offset="0.6905" stop-color="#c33b4f"/><stop offset="0.7143" stop-color="#85216b"/><stop offset="0.7381" stop-color="#57106e"/><stop offset="0.7619" stop-color="#3b0964"/><stop offset="0.7857" stop-color="#290b55"/><stop offset="0.8095" stop-color="#1e0c45"/><stop offset="0.8333" stop-color="#160b39"/><stop offset="0.8571" stop-color="#10092d"/><stop offset="0.8810" stop-color="#0b0724"/><stop offset="0.9048" stop-color="#08051d"/><stop offset="0.9286" stop-color="#050417"/><stop offset="0.9524" stop-color="#040312"/><stop offset="0.9762" stop-color="#02020e"/><stop offset="1.0000" stop-color="#02020c"/></radialGradient>
<radialGradient id="g19" gradientUnits="userSpaceOnUse" cx="127.2" cy="131.4" r="42.0"><stop offset="0.0000" stop-color="#010108"/><stop offset="0.0238" stop-color="#010108"/><stop offset="0.0476" stop-color="#02020c"/><stop offset="0.0714" stop-color="#07051b"/><stop offset="0.0952" stop-color="#150b37"/><stop offset="0.1190" stop-color="#190c3e"/><stop offset="0.1429" stop-color="#150b37"/><stop offset="0.1667" stop-color="#1b0c41"/><stop offset="0.1905" stop-color="#380962"/><stop offset="0.2143" stop-color="#57106e"/><stop offset="0.2381" stop-color="#64156e"/><stop offset="0.2619" stop-color="#57106e"/><stop offset="0.2857" stop-color="#380962"/><stop offset="0.3095" stop-color="#160b39"/><stop offset="0.3333" stop-color="#07051b"/><stop offset="0.3571" stop-color="#030210"/><stop offset="0.3810" stop-color="#02020e"/><stop offset="0.4048" stop-color="#040312"/><stop offset="0.4286" stop-color="#0a0722"/><stop offset="0.4524" stop-color="#1f0c48"/><stop offset="0.4762" stop-color="#520e6d"/><stop offset="0.5000" stop-color="#972766"/><stop offset="0.5238" stop-color="#dd513a"/><stop offset="0.5476" stop-color="#fa9407"/><stop offset="0.5714" stop-color="#fac228"/><stop offset="0.5952" stop-color="#f8cd37"/><stop offset="0.6190" stop-color="#fac62d"/><stop offset="0.6429" stop-color="#fca108"/><stop offset="0.6667" stop-color="#eb6628"/><stop offset="0.6905" stop-color="#b93556"/><stop offset="0.7143" stop-color="#7d1e6d"/><stop offset="0.7381" stop-color="#520e6d"/><stop offset="0.7619" stop-color="#380962"/><stop offset="0.7857" stop-color="#280b53"/><stop offset="0.8095" stop-color="#1c0c43"/><stop offset="0.8333" stop-color="#150b37"/><stop offset="0.8571" stop-color="#0e092b"/><stop offset="0.8810" stop-color="#0a0722"/><stop offset="0.9048" stop-color="#07051b"/><stop offset="0.9286" stop-color="#050417"/><stop offset="0.9524" stop-color="#040312"/><stop offset="0.9762" stop-color="#02020e"/><stop offset="1.0000" stop-color="#02020c"/></radialGradient>
<radialGradient id="g20" gradientUnits="userSpaceOnUse" cx="127.2" cy="131.4" r="42.0"><stop offset="0.0000" stop-color="#010108"/><stop offset="0.0238" stop-color="#010108"/><stop offset="0.0476" stop-color="#02020c"/><stop offset="0.0714" stop-color="#07051b"/><stop offset="0.0952" stop-color="#150b37"/><stop offset="0.1190" stop-color="#190c3e"/><stop offset="0.1429" stop-color="#150b37"/><stop offset="0.1667" stop-color="#1b0c41"/><stop offset="0.1905" stop-color="#380962"/><stop offset="0.2143" stop-color="#57106e"/><stop offset="0.2381" stop-color="#64156e"/><stop offset="0.2619" stop-color="#57106e"/><stop offset="0.2857" stop-color="#380962"/><stop offset="0.3095" stop-color="#160b39"/><stop offset="0.3333" stop-color="#07051b"/><stop offset="0.3571" stop-color="#030210"/><stop offset="0.3810" stop-color="#02020e"/><stop offset="0.4048" stop-color="#040312"/><stop offset="0.4286" stop-color="#0a0722"/><stop offset="0.4524" stop-color="#1f0c48"/><stop offset="0.4762" stop-color="#510e6c"/><stop offset="0.5000" stop-color="#952667"/><stop offset="0.5238" stop-color="#db503b"/><stop offset="0.5476" stop-color="#fa9008"/><stop offset="0.5714" stop-color="#fbbe23"/><stop offset="0.5952" stop-color="#f9c932"/><stop offset="0.6190" stop-color="#fac228"/><stop offset="0.6429" stop-color="#fb9d07"/><stop offset="0.6667" stop-color="#eb6429"/><stop offset="0.6905" stop-color="#b73557"/><stop offset="0.7143" stop-color="#7d1e6d"/><stop offset="0.7381" stop-color="#520e6d"/><stop offset="0.7619" stop-color="#380962"/><stop offset="0.7857" stop-color="#260c51"/><stop offset="0.8095" stop-color="#1c0c43"/><stop offset="0.8333" stop-color="#150b37"/><stop offset="0.8571" stop-color="#0e092b"/><stop offset="0.8810" stop-color="#0a0722"/><stop offset="0.9048" stop-color="#07051b"/><stop offset="0.9286" stop-color="#050417"/><stop offset="0.9524" stop-color="#040312"/><stop offset="0.9762" stop-color="#02020e"/><stop offset="1.0000" stop-color="#02020c"/></radialGradient>
<radialGradient id="g21" gradientUnits="userSpaceOnUse" cx="127.2" cy="131.4" r="42.0"><stop offset="0.0000" stop-color="#010108"/><stop offset="0.0238" stop-color="#010108"/><stop offset="0.0476" stop-color="#02020c"/><stop offset="0.0714" stop-color="#07051b"/><stop offset="0.0952" stop-color="#150b37"/><stop offset="0.1190" stop-color="#190c3e"/><stop offset="0.1429" stop-color="#150b37"/><stop offset="0.1667" stop-color="#1b0c41"/><stop offset="0.1905" stop-color="#380962"/><stop offset="0.2143" stop-color="#57106e"/><stop offset="0.2381" stop-color="#64156e"/><stop offset="0.2619" stop-color="#57106e"/><stop offset="0.2857" stop-color="#380962"/><stop offset="0.3095" stop-color="#160b39"/><stop offset="0.3333" stop-color="#07051b"/><stop offset="0.3571" stop-color="#030210"/><stop offset="0.3810" stop-color="#02020e"/><stop offset="0.4048" stop-color="#040312"/><stop offset="0.4286" stop-color="#0a0722"/><stop offset="0.4524" stop-color="#1f0c48"/><stop offset="0.4762" stop-color="#510e6c"/><stop offset="0.5000" stop-color="#952667"/><stop offset="0.5238" stop-color="#db503b"/><stop offset="0.5476" stop-color="#fa9008"/><stop offset="0.5714" stop-color="#fbbe23"/><stop offset="0.5952" stop-color="#f9c932"/><stop offset="0.6190" stop-color="#fac228"/><stop offset="0.6429" stop-color="#fb9d07"/><stop offset="0.6667" stop-color="#eb6429"/><stop offset="0.6905" stop-color="#b73557"/><stop offset="0.7143" stop-color="#7d1e6d"/><stop offset="0.7381" stop-color="#520e6d"/><stop offset="0.7619" stop-color="#380962"/><stop offset="0.7857" stop-color="#260c51"/><stop offset="0.8095" stop-color="#1c0c43"/><stop offset="0.8333" stop-color="#150b37"/><stop offset="0.8571" stop-color="#0e092b"/><stop offset="0.8810" stop-color="#0a0722"/><stop offset="0.9048" stop-color="#07051b"/><stop offset="0.9286" stop-color="#050417"/><stop offset="0.9524" stop-color="#040312"/><stop offset="0.9762" stop-color="#02020e"/><stop offset="1.0000" stop-color="#02020c"/></radialGradient>
<radialGradient id="g22" gradientUnits="userSpaceOnUse" cx="127.2" cy="131.4" r="42.0"><stop offset="0.0000" stop-color="#010108"/><stop offset="0.0238" stop-color="#010108"/><stop offset="0.0476" stop-color="#02020c"/><stop offset="0.0714" stop-color="#07051b"/><stop offset="0.0952" stop-color="#150b37"/><stop offset="0.1190" stop-color="#190c3e"/><stop offset="0.1429" stop-color="#150b37"/><stop offset="0.1667" stop-color="#1b0c41"/><stop offset="0.1905" stop-color="#380962"/><stop offset="0.2143" stop-color="#57106e"/><stop offset="0.2381" stop-color="#64156e"/><stop offset="0.2619" stop-color="#57106e"/><stop offset="0.2857" stop-color="#380962"/><stop offset="0.3095" stop-color="#160b39"/><stop offset="0.3333" stop-color="#07051b"/><stop offset="0.3571" stop-color="#030210"/><stop offset="0.3810" stop-color="#02020e"/><stop offset="0.4048" stop-color="#040312"/><stop offset="0.4286" stop-color="#0a0722"/><stop offset="0.4524" stop-color="#1f0c48"/><stop offset="0.4762" stop-color="#510e6c"/><stop offset="0.5000" stop-color="#952667"/><stop offset="0.5238" stop-color="#db503b"/><stop offset="0.5476" stop-color="#fa9008"/><stop offset="0.5714" stop-color="#fbbe23"/><stop offset="0.5952" stop-color="#f9c932"/><stop offset="0.6190" stop-color="#fac228"/><stop offset="0.6429" stop-color="#fb9d07"/><stop offset="0.6667" stop-color="#eb6429"/><stop offset="0.6905" stop-color="#b73557"/><stop offset="0.7143" stop-color="#7d1e6d"/><stop offset="0.7381" stop-color="#520e6d"/><stop offset="0.7619" stop-color="#380962"/><stop offset="0.7857" stop-color="#260c51"/><stop offset="0.8095" stop-color="#1c0c43"/><stop offset="0.8333" stop-color="#150b37"/><stop offset="0.8571" stop-color="#0e092b"/><stop offset="0.8810" stop-color="#0a0722"/><stop offset="0.9048" stop-color="#07051b"/><stop offset="0.9286" stop-color="#050417"/><stop offset="0.9524" stop-color="#040312"/><stop offset="0.9762" stop-color="#02020e"/><stop offset="1.0000" stop-color="#02020c"/></radialGradient>
<radialGradient id="g23" gradientUnits="userSpaceOnUse" cx="127.2" cy="131.4" r="42.0"><stop offset="0.0000" stop-color="#010108"/><stop offset="0.0238" stop-color="#010108"/><stop offset="0.0476" stop-color="#02020c"/><stop offset="0.0714" stop-color="#07051b"/><stop offset="0.0952" stop-color="#150b37"/><stop offset="0.1190" stop-color="#190c3e"/><stop offset="0.1429" stop-color="#150b37"/><stop offset="0.1667" stop-color="#1b0c41"/><stop offset="0.1905" stop-color="#380962"/><stop offset="0.2143" stop-color="#57106e"/><stop offset="0.2381" stop-color="#64156e"/><stop offset="0.2619" stop-color="#57106e"/><stop offset="0.2857" stop-color="#380962"/><stop offset="0.3095" stop-color="#160b39"/><stop offset="0.3333" stop-color="#07051b"/><stop offset="0.3571" stop-color="#02020e"/><stop offset="0.3810" stop-color="#02020c"/><stop offset="0.4048" stop-color="#040312"/><stop offset="0.4286" stop-color="#09061f"/><stop offset="0.4524" stop-color="#1c0c43"/><stop offset="0.4762" stop-color="#4a0c6b"/><stop offset="0.5000" stop-color="#8a226a"/><stop offset="0.5238" stop-color="#ce4347"/><stop offset="0.5476" stop-color="#f37819"/><stop offset="0.5714" stop-color="#fc9f07"/><stop offset="0.5952" stop-color="#fcaa0f"/><stop offset="0.6190" stop-color="#fca309"/><stop offset="0.6429" stop-color="#f78410"/><stop offset="0.6667" stop-color="#de5238"/><stop offset="0.6905" stop-color="#a92e5e"/><stop offset="0.7143" stop-color="#721a6e"/><stop offset="0.7381" stop-color="#4a0c6b"/><stop offset="0.7619" stop-color="#320a5e"/><stop offset="0.7857" stop-color="#230c4c"/><stop offset="0.8095" stop-color="#190c3e"/><stop offset="0.8333" stop-color="#120a32"/><stop offset="0.8571" stop-color="#0d0829"/><stop offset="0.8810" stop-color="#09061f"/><stop offset="0.9048" stop-color="#060419"/><stop offset="0.9286" stop-color="#040314"/><stop offset="0.9524" stop-color="#030210"/><stop offset="0.9762" stop-color="#02020e"/><stop offset="1.0000" stop-color="#02020c"/></radialGradient>
<radialGradient id="g24" gradientUnits="userSpaceOnUse" cx="127.2" cy="131.4" r="42.0"><stop offset="0.0000" stop-color="#010108"/><stop offset="0.0238" stop-color="#010108"/><stop offset="0.0476" stop-color="#02020c"/><stop offset="0.0714" stop-color="#07051b"/><stop offset="0.0952" stop-color="#150b37"/><stop offset="0.1190" stop-color="#190c3e"/><stop offset="0.1429" stop-color="#150b37"/><stop offset="0.1667" stop-color="#1b0c41"/><stop offset="0.1905" stop-color="#380962"/><stop offset="0.2143" stop-color="#57106e"/><stop offset="0.2381" stop-color="#64156e"/><stop offset="0.2619" stop-color="#57106e"/><stop offset="0.2857" stop-color="#380962"/><stop offset="0.3095" stop-color="#160b39"/><stop offset="0.3333" stop-color="#07051b"/><stop offset="0.3571" stop-color="#02020e"/><stop offset="0.3810" stop-color="#02020c"/><stop offset="0.4048" stop-color="#030210"/><stop offset="0.4286" stop-color="#08051d"/><stop offset="0.4524" stop-color="#160b39"/><stop offset="0.4762" stop-color="#3e0966"/><stop offset="0.5000" stop-color="#751b6e"/><stop offset="0.5238" stop-color="#b3325a"/><stop offset="0.5476" stop-color="#de5238"/><stop offset="0.5714" stop-color="#ef6e21"/><stop offset="0.5952" stop-color="#f3761b"/><stop offset="0.6190" stop-color="#f1711f"/><stop offset="0.6429" stop-color="#e45a31"/><stop offset="0.6667" stop-color="#c33b4f"/><stop offset="0.6905" stop-color="#902568"/><stop offset="0.7143" stop-color="#61136e"/><stop offset="0.7381" stop-color="#3e0966"/><stop offset="0.7619" stop-color="#280b53"/><stop offset="0.7857" stop-color="#1c0c43"/><stop offset="0.8095" stop-color="#150b37"/><stop offset="0.8333" stop-color="#0e092b"/><stop offset="0.8571" stop-color="#0b0724"/><stop offset="0.8810" stop-color="#08051d"/><stop offset="0.9048" stop-color="#050417"/><stop offset="0.9286" stop-color="#040312"/><stop offset="0.9524" stop-color="#030210"/><stop offset="0.9762" stop-color="#02020c"/><stop offset="1.0000" stop-color="#02010a"/></radialGradient>
<radialGradient id="g25" gradientUnits="userSpaceOnUse" cx="127.2" cy="131.4" r="42.0"><stop offset="0.0000" stop-color="#010108"/><stop offset="0.0238" stop-color="#010108"/><stop offset="0.0476" stop-color="#02020c"/><stop offset="0.0714" stop-color="#07051b"/><stop offset="0.0952" stop-color="#150b37"/><stop offset="0.1190" stop-color="#190c3e"/><stop offset="0.1429" stop-color="#150b37"/><stop offset="0.1667" stop-color="#1b0c41"/><stop offset="0.1905" stop-color="#380962"/><stop offset="0.2143" stop-color="#57106e"/><stop offset="0.2381" stop-color="#64156e"/><stop offset="0.2619" stop-color="#57106e"/><stop offset="0.2857" stop-color="#380962"/><stop offset="0.3095" stop-color="#160b39"/><stop offset="0.3333" stop-color="#07051b"/><stop offset="0.3571" stop-color="#02020e"/><stop offset="0.3810" stop-color="#02020c"/><stop offset="0.4048" stop-color="#030210"/><stop offset="0.4286" stop-color="#07051b"/><stop offset="0.4524" stop-color="#140b34"/><stop offset="0.4762" stop-color="#380962"/><stop offset="0.5000" stop-color="#6a176e"/><stop offset="0.5238" stop-color="#a32c61"/><stop offset="0.5476" stop-color="#cf4446"/><stop offset="0.5714" stop-color="#e35933"/><stop offset="0.5952" stop-color="#e8602d"/><stop offset="0.6190" stop-color="#e55c30"/><stop offset="0.6429" stop-color="#d54a41"/><stop offset="0.6667" stop-color="#b43359"/><stop offset="0.6905" stop-color="#84206b"/><stop offset="0.7143" stop-color="#59106e"/><stop offset="0.7381" stop-color="#380962"/><stop offset="0.7619" stop-color="#230c4c"/><stop offset="0.7857" stop-color="#190c3e"/><stop offset="0.8095" stop-color="#120a32"/><stop offset="0.8333" stop-color="#0d0829"/><stop offset="0.8571" stop-color="#0a0722"/><stop offset="0.8810" stop-color="#07051b"/><stop offset="0.9048" stop-color="#050417"/><stop offset="0.9286" stop-color="#040312"/><stop offset="0.9524" stop-color="#02020e"/><stop offset="0.9762" stop-color="#02020c"/><stop offset="1.0000" stop-color="#02010a"/></radialGradient>
<radialGradient id="g26" gradientUnits="userSpaceOnUse" cx="127.2" cy="131.4" r="42.0"><stop offset="0.0000" stop-color="#010108"/><stop offset="0.0238" stop-color="#010108"/><stop offset="0.0476" stop-color="#02020c"/><stop offset="0.0714" stop-color="#07051b"/><stop offset="0.0952" stop-color="#150b37"/><stop offset="0.1190" stop-color="#190c3e"/><stop offset="0.1429" stop-color="#150b37"/><stop offset="0.1667" stop-color="#1b0c41"/><stop offset="0.1905" stop-color="#380962"/><stop offset="0.2143" stop-color="#57106e"/><stop offset="0.2381" stop-color="#64156e"/><stop offset="0.2619" stop-color="#57106e"/><stop offset="0.2857" stop-color="#380962"/><stop offset="0.3095" stop-color="#160b39"/><stop offset="0.3333" stop-color="#07051b"/><stop offset="0.3571" stop-color="#02020e"/><stop offset="0.3810" stop-color="#02020c"/><stop offset="0.4048" stop-color="#02020e"/><stop offset="0.4286" stop-color="#060419"/><stop offset="0.4524" stop-color="#120a32"/><stop offset="0.4762" stop-color="#340a5f"/><stop offset="0.5000" stop-color="#65156e"/><stop offset="0.5238" stop-color="#9a2865"/><stop offset="0.5476" stop-color="#c63d4d"/><stop offset="0.5714" stop-color="#da4e3c"/><stop offset="0.5952" stop-color="#e05536"/><stop offset="0.6190" stop-color="#dd513a"/><stop offset="0.6429" stop-color="#cc4248"/><stop offset="0.6667" stop-color="#ab2f5e"/><stop offset="0.6905" stop-color="#7d1e6d"/><stop offset="0.7143" stop-color="#540f6d"/><stop offset="0.7381" stop-color="#340a5f"/><stop offset="0.7619" stop-color="#210c4a"/><stop offset="0.7857" stop-color="#160b39"/><stop offset="0.8095" stop-color="#110a30"/><stop offset="0.8333" stop-color="#0c0826"/><stop offset="0.8571" stop-color="#09061f"/><stop offset="0.8810" stop-color="#060419"/><stop offset="0.9048" stop-color="#040314"/><stop offset="0.9286" stop-color="#030210"/><stop offset="0.9524" stop-color="#02020e"/><stop offset="0.9762" stop-color="#02020c"/><stop offset="1.0000" stop-color="#02010a"/></radialGradient>
<radialGradient id="g27" gradientUnits="userSpaceOnUse" cx="127.2" cy="131.4" r="42.0"><stop offset="0.0000" stop-color="#010108"/><stop offset="0.0238" stop-color="#010108"/><stop offset="0.0476" stop-color="#02020c"/><stop offset="0.0714" stop-color="#07051b"/><stop offset="0.0952" stop-color="#150b37"/><stop offset="0.1190" stop-color="#190c3e"/><stop offset="0.1429" stop-color="#150b37"/><stop offset="0.1667" stop-color="#1b0c41"/><stop offset="0.1905" stop-color="#380962"/><stop offset="0.2143" stop-color="#57106e"/><stop offset="0.2381" stop-color="#64156e"/><stop offset="0.2619" stop-color="#57106e"/><stop offset="0.2857" stop-color="#380962"/><stop offset="0.3095" stop-color="#160b39"/><stop offset="0.3333" stop-color="#07051b"/><stop offset="0.3571" stop-color="#02020e"/><stop offset="0.3810" stop-color="#02020c"/><stop offset="0.4048" stop-color="#02020e"/><stop offset="0.4286" stop-color="#060419"/><stop offset="0.4524" stop-color="#120a32"/><stop offset="0.4762" stop-color="#340a5f"/><stop offset="0.5000" stop-color="#65156e"/><stop offset="0.5238" stop-color="#9a2865"/><stop offset="0.5476" stop-color="#c63d4d"/><stop offset="0.5714" stop-color="#da4e3c"/><stop offset="0.5952" stop-color="#e05536"/><stop offset="0.6190" stop-color="#dd513a"/><stop offset="0.6429" stop-color="#cc4248"/><stop offset="0.6667" stop-color="#a92e5e"/><stop offset="0.6905" stop-color="#7d1e6d"/><stop offset="0.7143" stop-color="#540f6d"/><stop offset="0.7381" stop-color="#340a5f"/><stop offset="0.7619" stop-color="#210c4a"/><stop offset="0.7857" stop-color="#160b39"/><stop offset="0.8095" stop-color="#110a30"/><stop offset="0.8333" stop-color="#0c0826"/><stop offset="0.8571" stop-color="#09061f"/><stop offset="0.8810" stop-color="#060419"/><stop offset="0.9048" stop-color="#040314"/><stop offset="0.9286" stop-color="#030210"/><stop offset="0.9524" stop-color="#02020e"/><stop offset="0.9762" stop-color="#02020c"/><stop offset="1.0000" stop-color="#02010a"/></radialGradient>
<radialGradient id="g28" gradientUnits="userSpaceOnUse" cx="127.2" cy="131.4" r="42.0"><stop offset="0.0000" stop-color="#010108"/><stop offset="0.0238" stop-color="#010108"/><stop offset="0.0476" stop-color="#02020c"/><stop offset="0.0714" stop-color="#07051b"/><stop offset="0.0952" stop-color="#150b37"/><stop offset="0.1190" stop-color="#190c3e"/><stop offset="0.1429" stop-color="#150b37"/><stop offset="0.1667" stop-color="#1b0c41"/><stop offset="0.1905" stop-color="#380962"/><stop offset="0.2143" stop-color="#57106e"/><stop offset="0.2381" stop-color="#64156e"/><stop offset="0.2619" stop-color="#57106e"/><stop offset="0.2857" stop-color="#380962"/><stop offset="0.3095" stop-color="#160b39"/><stop offset="0.3333" stop-color="#07051b"/><stop offset="0.3571" stop-color="#02020e"/><stop offset="0.3810" stop-color="#02020c"/><stop offset="0.4048" stop-color="#030210"/><stop offset="0.4286" stop-color="#07051b"/><stop offset="0.4524" stop-color="#140b34"/><stop offset="0.4762" stop-color="#380962"/><stop offset="0.5000" stop-color="#6a176e"/><stop offset="0.5238" stop-color="#a32c61"/><stop offset="0.5476" stop-color="#ce4347"/><stop offset="0.5714" stop-color="#e35933"/><stop offset="0.5952" stop-color="#e75e2e"/><stop offset="0.6190" stop-color="#e45a31"/><stop offset="0.6429" stop-color="#d54a41"/><stop offset="0.6667" stop-color="#b3325a"/><stop offset="0.6905" stop-color="#84206b"/><stop offset="0.7143" stop-color="#59106e"/><stop offset="0.7381" stop-color="#380962"/><stop offset="0.7619" stop-color="#230c4c"/><stop offset="0.7857" stop-color="#180c3c"/><stop offset="0.8095" stop-color="#120a32"/><stop offset="0.8333" stop-color="#0d0829"/><stop offset="0.8571" stop-color="#0a0722"/><stop offset="0.8810" stop-color="#07051b"/><stop offset="0.9048" stop-color="#050417"/><stop offset="0.9286" stop-color="#040312"/><stop offset="0.9524" stop-color="#02020e"/><stop offset="0.9762" stop-color="#02020c"/><stop offset="1.0000" stop-color="#02010a"/></radialGradient>
<radialGradient id="g29" gradientUnits="userSpaceOnUse" cx="127.2" cy="131.4" r="42.0"><stop offset="0.0000" stop-color="#010108"/><stop offset="0.0238" stop-color="#010108"/><stop offset="0.0476" stop-color="#02020c"/><stop offset="0.0714" stop-color="#07051b"/><stop offset="0.0952" stop-color="#150b37"/><stop offset="0.1190" stop-color="#190c3e"/><stop offset="0.1429" stop-color="#150b37"/><stop offset="0.1667" stop-color="#1b0c41"/><stop offset="0.1905" stop-color="#380962"/><stop offset="0.2143" stop-color="#57106e"/><stop offset="0.2381" stop-color="#64156e"/><stop offset="0.2619" stop-color="#57106e"/><stop offset="0.2857" stop-color="#380962"/><stop offset="0.3095" stop-color="#160b39"/><stop offset="0.3333" stop-color="#07051b"/><stop offset="0.3571" stop-color="#02020e"/><stop offset="0.3810" stop-color="#02020c"/><stop offset="0.4048" stop-color="#030210"/><stop offset="0.4286" stop-color="#08051d"/><stop offset="0.4524" stop-color="#180c3c"/><stop offset="0.4762" stop-color="#3e0966"/><stop offset="0.5000" stop-color="#771c6d"/><stop offset="0.5238" stop-color="#b43359"/><stop offset="0.5476" stop-color="#e05536"/><stop offset="0.5714" stop-color="#f1711f"/><stop offset="0.5952" stop-color="#f47918"/><stop offset="0.6190" stop-color="#f2741c"/><stop offset="0.6429" stop-color="#e65d2f"/><stop offset="0.6667" stop-color="#c63d4d"/><stop offset="0.6905" stop-color="#932667"/><stop offset="0.7143" stop-color="#62146e"/><stop offset="0.7381" stop-color="#400a67"/><stop offset="0.7619" stop-color="#290b55"/><stop offset="0.7857" stop-color="#1c0c43"/><stop offset="0.8095" stop-color="#150b37"/><stop offset="0.8333" stop-color="#10092d"/><stop offset="0.8571" stop-color="#0b0724"/><stop offset="0.8810" stop-color="#08051d"/><stop offset="0.9048" stop-color="#050417"/><stop offset="0.9286" stop-color="#040312"/><stop offset="0.9524" stop-color="#030210"/><stop offset="0.9762" stop-color="#02020c"/><stop offset="1.0000" stop-color="#02020c"/></radialGradient>
<radialGradient id="g30" gradientUnits="userSpaceOnUse" cx="127.2" cy="131.4" r="42.0"><stop offset="0.0000" stop-color="#010108"/><stop offset="0.0238" stop-color="#010108"/><stop offset="0.0476" stop-color="#02020c"/><stop offset="0.0714" stop-color="#07051b"/><stop offset="0.0952" stop-color="#150b37"/><stop offset="0.1190" stop-color="#190c3e"/><stop offset="0.1429" stop-color="#150b37"/><stop offset="0.1667" stop-color="#1b0c41"/><stop offset="0.1905" stop-color="#380962"/><stop offset="0.2143" stop-color="#57106e"/><stop offset="0.2381" stop-color="#64156e"/><stop offset="0.2619" stop-color="#57106e"/><stop offset="0.2857" stop-color="#380962"/><stop offset="0.3095" stop-color="#160b39"/><stop offset="0.3333" stop-color="#07051b"/><stop offset="0.3571" stop-color="#02020e"/><stop offset="0.3810" stop-color="#02020c"/><stop offset="0.4048" stop-color="#040312"/><stop offset="0.4286" stop-color="#0a0722"/><stop offset="0.4524" stop-color="#1e0c45"/><stop offset="0.4762" stop-color="#4f0d6c"/><stop offset="0.5000" stop-color="#922568"/><stop offset="0.5238" stop-color="#d74b3f"/><stop offset="0.5476" stop-color="#f8890c"/><stop offset="0.5714" stop-color="#fcb418"/><stop offset="0.5952" stop-color="#fac026"/><stop offset="0.6190" stop-color="#fbb81d"/><stop offset="0.6429" stop-color="#fb9606"/><stop offset="0.6667" stop-color="#e75e2e"/><stop offset="0.6905" stop-color="#b43359"/><stop offset="0.7143" stop-color="#7a1d6d"/><stop offset="0.7381" stop-color="#4f0d6c"/><stop offset="0.7619" stop-color="#360961"/><stop offset="0.7857" stop-color="#260c51"/><stop offset="0.8095" stop-color="#1b0c41"/><stop offset="0.8333" stop-color="#140b34"/><stop offset="0.8571" stop-color="#0e092b"/><stop offset="0.8810" stop-color="#0a0722"/><stop offset="0.9048" stop-color="#07051b"/><stop offset="0.9286" stop-color="#040314"/><stop offset="0.9524" stop-color="#030210"/><stop offset="0.9762" stop-color="#02020e"/><stop offset="1.0000" stop-color="#02020c"/></radialGradient>
<radialGradient id="g31" gradientUnits="userSpaceOnUse" cx="127.2" cy="131.4" r="42.0"><stop offset="0.0000" stop-color="#010108"/><stop offset="0.0238" stop-color="#010108"/><stop offset="0.0476" stop-color="#02020c"/><stop offset="0.0714" stop-color="#07051b"/><stop offset="0.0952" stop-color="#150b37"/><stop offset="0.1190" stop-color="#190c3e"/><stop offset="0.1429" stop-color="#150b37"/><stop offset="0.1667" stop-color="#1b0c41"/><stop offset="0.1905" stop-color="#380962"/><stop offset="0.2143" stop-color="#57106e"/><stop offset="0.2381" stop-color="#64156e"/><stop offset="0.2619" stop-color="#57106e"/><stop offset="0.2857" stop-color="#380962"/><stop offset="0.3095" stop-color="#160b39"/><stop offset="0.3333" stop-color="#07051b"/><stop offset="0.3571" stop-color="#030210"/><stop offset="0.3810" stop-color="#02020e"/><stop offset="0.4048" stop-color="#040314"/><stop offset="0.4286" stop-color="#0c0826"/><stop offset="0.4524" stop-color="#260c51"/><stop offset="0.4762" stop-color="#5d126e"/><stop offset="0.5000" stop-color="#ab2f5e"/><stop offset="0.5238" stop-color="#ef6e21"/><stop offset="0.5476" stop-color="#fac42a"/><stop offset="0.5714" stop-color="#f3f586"/><stop offset="0.5952" stop-color="#fafda1"/><stop offset="0.6190" stop-color="#f4f88e"/><stop offset="0.6429" stop-color="#f7d340"/><stop offset="0.6667" stop-color="#f98b0b"/><stop offset="0.6905" stop-color="#cf4446"/><stop offset="0.7143" stop-color="#8f2469"/><stop offset="0.7381" stop-color="#5f136e"/><stop offset="0.7619" stop-color="#420a68"/><stop offset="0.7857" stop-color="#2f0a5b"/><stop offset="0.8095" stop-color="#230c4c"/><stop offset="0.8333" stop-color="#190c3e"/><stop offset="0.8571" stop-color="#110a30"/><stop offset="0.8810" stop-color="#0c0826"/><stop offset="0.9048" stop-color="#08051d"/><stop offset="0.9286" stop-color="#060419"/><stop offset="0.9524" stop-color="#040312"/><stop offset="0.9762" stop-color="#030210"/><stop offset="1.0000" stop-color="#02020c"/></radialGradient>
<radialGradient id="g32" gradientUnits="userSpaceOnUse" cx="127.2" cy="131.4" r="42.0"><stop offset="0.0000" stop-color="#010108"/><stop offset="0.0238" stop-color="#010108"/><stop offset="0.0476" stop-color="#02020c"/><stop offset="0.0714" stop-color="#07051b"/><stop offset="0.0952" stop-color="#150b37"/><stop offset="0.1190" stop-color="#190c3e"/><stop offset="0.1429" stop-color="#150b37"/><stop offset="0.1667" stop-color="#1b0c41"/><stop offset="0.1905" stop-color="#380962"/><stop offset="0.2143" stop-color="#57106e"/><stop offset="0.2381" stop-color="#64156e"/><stop offset="0.2619" stop-color="#57106e"/><stop offset="0.2857" stop-color="#380962"/><stop offset="0.3095" stop-color="#160b39"/><stop offset="0.3333" stop-color="#07051b"/><stop offset="0.3571" stop-color="#030210"/><stop offset="0.3810" stop-color="#02020e"/><stop offset="0.4048" stop-color="#040314"/><stop offset="0.4286" stop-color="#0c0826"/><stop offset="0.4524" stop-color="#260c51"/><stop offset="0.4762" stop-color="#5f136e"/><stop offset="0.5000" stop-color="#ae305c"/><stop offset="0.5238" stop-color="#f1711f"/><stop offset="0.5476" stop-color="#f9c72f"/><stop offset="0.5714" stop-color="#f4f88e"/><stop offset="0.5952" stop-color="#fcffa4"/><stop offset="0.6190" stop-color="#f8fb9a"/><stop offset="0.6429" stop-color="#f5d949"/><stop offset="0.6667" stop-color="#f98e09"/><stop offset="0.6905" stop-color="#d24644"/><stop offset="0.7143" stop-color="#922568"/><stop offset="0.7381" stop-color="#61136e"/><stop offset="0.7619" stop-color="#420a68"/><stop offset="0.7857" stop-color="#2f0a5b"/><stop offset="0.8095" stop-color="#230c4c"/><stop offset="0.8333" stop-color="#190c3e"/><stop offset="0.8571" stop-color="#120a32"/><stop offset="0.8810" stop-color="#0c0826"/><stop offset="0.9048" stop-color="#09061f"/><stop offset="0.9286" stop-color="#060419"/><stop offset="0.9524" stop-color="#040312"/><stop offset="0.9762" stop-color="#030210"/><stop offset="1.0000" stop-color="#02020c"/></radialGradient>
<radialGradient id="g33" gradientUnits="userSpaceOnUse" cx="127.2" cy="131.4" r="42.0"><stop offset="0.0000" stop-color="#010108"/><stop offset="0.0238" stop-color="#010108"/><stop offset="0.0476" stop-color="#02020c"/><stop offset="0.0714" stop-color="#07051b"/><stop offset="0.0952" stop-color="#150b37"/><stop offset="0.1190" stop-color="#190c3e"/><stop offset="0.1429" stop-color="#150b37"/><stop offset="0.1667" stop-color="#1b0c41"/><stop offset="0.1905" stop-color="#380962"/><stop offset="0.2143" stop-color="#57106e"/><stop offset="0.2381" stop-color="#64156e"/><stop offset="0.2619" stop-color="#57106e"/><stop offset="0.2857" stop-color="#380962"/><stop offset="0.3095" stop-color="#160b39"/><stop offset="0.3333" stop-color="#07051b"/><stop offset="0.3571" stop-color="#030210"/><stop offset="0.3810" stop-color="#02020e"/><stop offset="0.4048" stop-color="#040312"/><stop offset="0.4286" stop-color="#0b0724"/><stop offset="0.4524" stop-color="#210c4a"/><stop offset="0.4762" stop-color="#550f6d"/><stop offset="0.5000" stop-color="#9d2964"/><stop offset="0.5238" stop-color="#e25734"/><stop offset="0.5476" stop-color="#fc9f07"/><stop offset="0.5714" stop-color="#f8cf3a"/><stop offset="0.5952" stop-color="#f5db4c"/><stop offset="0.6190" stop-color="#f7d340"/><stop offset="0.6429" stop-color="#fcae12"/><stop offset="0.6667" stop-color="#ef6e21"/><stop offset="0.6905" stop-color="#bf3952"/><stop offset="0.7143" stop-color="#82206c"/><stop offset="0.7381" stop-color="#550f6d"/><stop offset="0.7619" stop-color="#3b0964"/><stop offset="0.7857" stop-color="#290b55"/><stop offset="0.8095" stop-color="#1e0c45"/><stop offset="0.8333" stop-color="#150b37"/><stop offset="0.8571" stop-color="#10092d"/><stop offset="0.8810" stop-color="#0b0724"/><stop offset="0.9048" stop-color="#07051b"/><stop offset="0.9286" stop-color="#050417"/><stop offset="0.9524" stop-color="#040312"/><stop offset="0.9762" stop-color="#02020e"/><stop offset="1.0000" stop-color="#02020c"/></radialGradient>
<radialGradient id="g34" gradientUnits="userSpaceOnUse" cx="127.2" cy="131.4" r="42.0"><stop offset="0.0000" stop-color="#010108"/><stop offset="0.0238" stop-color="#010108"/><stop offset="0.0476" stop-color="#02020c"/><stop offset="0.0714" stop-color="#07051b"/><stop offset="0.0952" stop-color="#150b37"/><stop offset="0.1190" stop-color="#190c3e"/><stop offset="0.1429" stop-color="#150b37"/><stop offset="0.1667" stop-color="#1b0c41"/><stop offset="0.1905" stop-color="#380962"/><stop offset="0.2143" stop-color="#57106e"/><stop offset="0.2381" stop-color="#64156e"/><stop offset="0.2619" stop-color="#57106e"/><stop offset="0.2857" stop-color="#380962"/><stop offset="0.3095" stop-color="#160b39"/><stop offset="0.3333" stop-color="#07051b"/><stop offset="0.3571" stop-color="#02020e"/><stop offset="0.3810" stop-color="#02020c"/><stop offset="0.4048" stop-color="#040312"/><stop offset="0.4286" stop-color="#09061f"/><stop offset="0.4524" stop-color="#1c0c43"/><stop offset="0.4762" stop-color="#4c0c6b"/><stop offset="0.5000" stop-color="#8c2369"/><stop offset="0.5238" stop-color="#cf4446"/><stop offset="0.5476" stop-color="#f57b17"/><stop offset="0.5714" stop-color="#fca309"/><stop offset="0.5952" stop-color="#fcae12"/><stop offset="0.6190" stop-color="#fca60c"/><stop offset="0.6429" stop-color="#f8870e"/><stop offset="0.6667" stop-color="#e05536"/><stop offset="0.6905" stop-color="#ab2f5e"/><stop offset="0.7143" stop-color="#741a6e"/><stop offset="0.7381" stop-color="#4c0c6b"/><stop offset="0.7619" stop-color="#320a5e"/><stop offset="0.7857" stop-color="#230c4c"/><stop offset="0.8095" stop-color="#190c3e"/><stop offset="0.8333" stop-color="#120a32"/><stop offset="0.8571" stop-color="#0d0829"/><stop offset="0.8810" stop-color="#09061f"/><stop offset="0.9048" stop-color="#060419"/><stop offset="0.9286" stop-color="#040314"/><stop offset="0.9524" stop-color="#030210"/><stop offset="0.9762" stop-color="#02020e"/><stop offset="1.0000" stop-color="#02020c"/></radialGradient>
<radialGradient id="g35" gradientUnits="userSpaceOnUse" cx="127.2" cy="131.4" r="42.0"><stop offset="0.0000" stop-color="#010108"/><stop offset="0.0238" stop-color="#010108"/><stop offset="0.0476" stop-color="#02020c"/><stop offset="0.0714" stop-color="#07051b"/><stop offset="0.0952" stop-color="#150b37"/><stop offset="0.1190" stop-color="#190c3e"/><stop offset="0.1429" stop-color="#150b37"/><stop offset="0.1667" stop-color="#1b0c41"/><stop offset="0.1905" stop-color="#380962"/><stop offset="0.2143" stop-color="#57106e"/><stop offset="0.2381" stop-color="#64156e"/><stop offset="0.2619" stop-color="#57106e"/><stop offset="0.2857" stop-color="#380962"/><stop offset="0.3095" stop-color="#160b39"/><stop offset="0.3333" stop-color="#07051b"/><stop offset="0.3571" stop-color="#02020e"/><stop offset="0.3810" stop-color="#02020c"/><stop offset="0.4048" stop-color="#040312"/><stop offset="0.4286" stop-color="#09061f"/><stop offset="0.4524" stop-color="#1c0c43"/><stop offset="0.4762" stop-color="#4a0c6b"/><stop offset="0.5000" stop-color="#8a226a"/><stop offset="0.5238" stop-color="#ce4347"/><stop offset="0.5476" stop-color="#f37819"/><stop offset="0.5714" stop-color="#fc9f07"/><stop offset="0.5952" stop-color="#fcaa0f"/><stop offset="0.6190" stop-color="#fca309"/><stop offset="0.6429" stop-color="#f78410"/><stop offset="0.6667" stop-color="#df5337"/><stop offset="0.6905" stop-color="#a92e5e"/><stop offset="0.7143" stop-color="#721a6e"/><stop offset="0.7381" stop-color="#4c0c6b"/><stop offset="0.7619" stop-color="#320a5e"/><stop offset="0.7857" stop-color="#230c4c"/><stop offset="0.8095" stop-color="#190c3e"/><stop offset="0.8333" stop-color="#120a32"/><stop offset="0.8571" stop-color="#0d0829"/><stop offset="0.8810" stop-color="#09061f"/><stop offset="0.9048" stop-color="#060419"/><stop offset="0.9286" stop-color="#040314"/><stop offset="0.9524" stop-color="#030210"/><stop offset="0.9762" stop-color="#02020e"/><stop offset="1.0000" stop-color="#02020c"/></radialGradient>
<clipPath id="hm"><rect x="49.9" y="56.0" width="153.1" height="153.0"/></clipPath>
<filter id="bl" x="-20%" y="-20%" width="140%" height="140%"><feGaussianBlur stdDeviation="0.9"/></filter>
<clipPath id="axc"><rect x="263.0" y="41.7" width="278.0" height="183.4"/></clipPath>
</defs>
<rect x="49.9" y="56.0" width="153.1" height="153.0" fill="#000004"/>
<g clip-path="url(#hm)"><g filter="url(#bl)">
<path d="M127.20 131.40L170.20 131.85A43.0 43.0 0 0 0 169.47 123.49Z" fill="url(#g0)"/>
<path d="M127.20 131.40L169.62 124.38A43.0 43.0 0 0 0 167.45 116.27Z" fill="url(#g1)"/>
<path d="M127.20 131.40L167.76 117.12A43.0 43.0 0 0 0 164.21 109.51Z" fill="url(#g2)"/>
<path d="M127.20 131.40L164.66 110.29A43.0 43.0 0 0 0 159.85 103.42Z" fill="url(#g3)"/>
<path d="M127.20 131.40L160.43 104.11A43.0 43.0 0 0 0 154.49 98.17Z" fill="url(#g4)"/>
<path d="M127.20 131.40L155.18 98.75A43.0 43.0 0 0 0 148.31 93.94Z" fill="url(#g5)"/>
<path d="M127.20 131.40L149.09 94.39A43.0 43.0 0 0 0 141.48 90.84Z" fill="url(#g6)"/>
<path d="M127.20 131.40L142.33 91.15A43.0 43.0 0 0 0 134.22 88.98Z" fill="url(#g7)"/>
<path d="M127.20 131.40L135.11 89.13A43.0 43.0 0 0 0 126.75 88.40Z" fill="url(#g8)"/>
<path d="M127.20 131.40L127.65 88.40A43.0 43.0 0 0 0 119.29 89.13Z" fill="url(#g9)"/>
<path d="M127.20 131.40L120.18 88.98A43.0 43.0 0 0 0 112.07 91.15Z" fill="url(#g10)"/>
<path d="M127.20 131.40L112.92 90.84A43.0 43.0 0 0 0 105.31 94.39Z" fill="url(#g11)"/>
<path d="M127.20 131.40L106.09 93.94A43.0 43.0 0 0 0 99.22 98.75Z" fill="url(#g12)"/>
<path d="M127.20 131.40L99.91 98.17A43.0 43.0 0 0 0 93.97 104.11Z" fill="url(#g13)"/>
<path d="M127.20 131.40L94.55 103.42A43.0 43.0 0 0 0 89.74 110.29Z" fill="url(#g14)"/>
<path d="M127.20 131.40L90.19 109.51A43.0 43.0 0 0 0 86.64 117.12Z" fill="url(#g15)"/>
<path d="M127.20 131.40L86.95 116.27A43.0 43.0 0 0 0 84.78 124.38Z" fill="url(#g16)"/>
<path d="M127.20 131.40L84.93 123.49A43.0 43.0 0 0 0 84.20 131.85Z" fill="url(#g17)"/>
<path d="M127.20 131.40L84.20 130.95A43.0 43.0 0 0 0 84.93 139.31Z" fill="url(#g18)"/>
<path d="M127.20 131.40L84.78 138.42A43.0 43.0 0 0 0 86.95 146.53Z" fill="url(#g19)"/>
<path d="M127.20 131.40L86.64 145.68A43.0 43.0 0 0 0 90.19 153.29Z" fill="url(#g20)"/>
<path d="M127.20 131.40L89.74 152.51A43.0 43.0 0 0 0 94.55 159.38Z" fill="url(#g21)"/>
<path d="M127.20 131.40L93.97 158.69A43.0 43.0 0 0 0 99.91 164.63Z" fill="url(#g22)"/>
<path d="M127.20 131.40L99.22 164.05A43.0 43.0 0 0 0 106.09 168.86Z" fill="url(#g23)"/>
<path d="M127.20 131.40L105.31 168.41A43.0 43.0 0 0 0 112.92 171.96Z" fill="url(#g24)"/>
<path d="M127.20 131.40L112.07 171.65A43.0 43.0 0 0 0 120.18 173.82Z" fill="url(#g25)"/>
<path d="M127.20 131.40L119.29 173.67A43.0 43.0 0 0 0 127.65 174.40Z" fill="url(#g26)"/>
<path d="M127.20 131.40L126.75 174.40A43.0 43.0 0 0 0 135.11 173.67Z" fill="url(#g27)"/>
<path d="M127.20 131.40L134.22 173.82A43.0 43.0 0 0 0 142.33 171.65Z" fill="url(#g28)"/>
<path d="M127.20 131.40L141.48 171.96A43.0 43.0 0 0 0 149.09 168.41Z" fill="url(#g29)"/>
<path d="M127.20 131.40L148.31 168.86A43.0 43.0 0 0 0 155.18 164.05Z" fill="url(#g30)"/>
<path d="M127.20 131.40L154.49 164.63A43.0 43.0 0 0 0 160.43 158.69Z" fill="url(#g31)"/>
<path d="M127.20 131.40L159.85 159.38A43.0 43.0 0 0 0 164.66 152.51Z" fill="url(#g32)"/>
<path d="M127.20 131.40L164.21 153.29A43.0 43.0 0 0 0 167.76 145.68Z" fill="url(#g33)"/>
<path d="M127.20 131.40L167.45 146.53A43.0 43.0 0 0 0 169.62 138.42Z" fill="url(#g34)"/>
<path d="M127.20 131.40L169.47 139.31A43.0 43.0 0 0 0 170.20 130.95Z" fill="url(#g35)"/>
</g></g>
<g stroke="#00aeef" fill="none" stroke-dasharray="3.6 1.25">
<path stroke-width="1.7" d="M127.2 131.6L203.0 131.6"/>
<path stroke-width="1.45" d="M127.2 131.4L203.0 56.6"/>
</g>
<g stroke="#00aeef" stroke-width="1.4" fill="none" stroke-linecap="round" stroke-linejoin="round">
<path d="M172.20 131.40A45.0 45.0 0 0 0 161.42 102.17"/>
<path d="M161.42 102.17L162.69 108.45"/>
<path d="M161.42 102.17L167.41 104.42"/>
</g>
<text x="172.5" y="116.2" class="si" style="fill:#00aeef;stroke:#00aeef" font-size="14.5">θ</text>
<text x="76.6" y="99.0" class="si" style="fill:#fff;stroke:#fff" font-size="15.5" textLength="15.6" lengthAdjust="spacingAndGlyphs">S0</text>
<text x="76.8" y="131.8" class="si" style="fill:#fff;stroke:#fff" font-size="15.2" textLength="17.4" lengthAdjust="spacingAndGlyphs">A0</text>
<g stroke="#fff" stroke-width="1.6" fill="none" stroke-linecap="round" stroke-linejoin="round">
<path d="M94 97.4Q113 102.5 120.2 120"/>
<path d="M120.2 120L121.08 113.46"/>
<path d="M120.2 120L114.97 115.97"/>
</g>
<g stroke="#000" stroke-width="1.2" fill="none">
<path d="M50.40 209.0V213.2"/>
<path d="M45.7 209.00H49.9"/>
<path d="M88.65 209.0V213.2"/>
<path d="M45.7 170.75H49.9"/>
<path d="M126.90 209.0V213.2"/>
<path d="M45.7 132.50H49.9"/>
<path d="M165.15 209.0V213.2"/>
<path d="M45.7 94.25H49.9"/>
</g>
<text x="50.70" y="229.0" font-size="14.3" text-anchor="middle">−400</text>
<text x="40.6" y="213.70" font-size="14.3" text-anchor="end">−400</text>
<text x="88.95" y="229.0" font-size="14.3" text-anchor="middle">−200</text>
<text x="40.6" y="175.45" font-size="14.3" text-anchor="end">−200</text>
<text x="127.20" y="229.0" font-size="14.3" text-anchor="middle">0</text>
<text x="40.6" y="137.20" font-size="14.3" text-anchor="end">0</text>
<text x="165.45" y="229.0" font-size="14.3" text-anchor="middle">200</text>
<text x="40.6" y="98.95" font-size="14.3" text-anchor="end">200</text>
<text x="10" y="14.6" font-size="13" textLength="14.8" lengthAdjust="spacingAndGlyphs">(a)</text>
<text x="70" y="28.2" font-size="15.4" textLength="118" lengthAdjust="spacingAndGlyphs">Time-Consolidated</text>
<text x="54.7" y="45.4" font-size="15.4" textLength="147.2" lengthAdjust="spacingAndGlyphs">Wavenumber Spectrum</text>
<g transform="translate(100.5 246.9)" style="stroke:#000;stroke-width:0.15px"><text x="0" y="0" font-size="14.6" class="si">κ</text><text x="7.4" y="2.7" font-size="11" class="si">x</text><text x="17.3" y="0" font-size="14.6" class="si">(</text><text x="22.9" y="0" font-size="14.6" class="si" textLength="10.2" lengthAdjust="spacingAndGlyphs">m</text><text x="35.2" y="-4.6" font-size="10.4" textLength="11.4" lengthAdjust="spacing">−1</text><text x="48.6" y="0" font-size="14.6" class="si">)</text></g>
<g transform="translate(17.7 159.6) rotate(-90)" style="stroke:#000;stroke-width:0.15px"><text x="0" y="0" font-size="14.6" class="si">κ</text><text x="7.4" y="2.7" font-size="11" class="si">y</text><text x="17.3" y="0" font-size="14.6" class="si">(</text><text x="22.9" y="0" font-size="14.6" class="si" textLength="10.2" lengthAdjust="spacingAndGlyphs">m</text><text x="35.2" y="-4.6" font-size="10.4" textLength="11.4" lengthAdjust="spacing">−1</text><text x="48.6" y="0" font-size="14.6" class="si">)</text></g>
<g clip-path="url(#axc)">
<polygon points="263.00,225.10 263.00,214.11 263.25,214.11 263.50,214.11 263.75,214.11 264.00,214.11 264.25,214.11 264.50,214.11 264.75,214.11 265.00,214.11 265.25,214.11 265.50,214.11 265.75,214.11 266.00,214.11 266.25,214.11 266.50,214.11 266.75,214.11 267.00,214.11 267.25,214.11 267.50,214.11 267.75,214.11 268.00,212.55 268.25,209.60 268.50,206.27 268.75,202.74 268.80,202.03 268.80,225.10" fill="#990099"/>
<polygon points="268.80,225.10 268.80,202.03 269.05,198.00 269.30,193.28 269.55,188.31 269.80,183.50 270.05,179.26 270.30,175.19 270.55,171.12 270.80,167.26 271.05,163.80 271.30,160.93 271.55,158.82 271.80,157.01 272.05,155.30 272.30,153.79 272.55,152.56 272.80,151.70 273.05,151.32 273.30,151.49 273.55,152.18 273.80,153.28 274.05,154.70 274.30,156.35 274.55,158.11 274.80,159.99 275.05,162.69 275.30,166.09 275.55,169.87 275.80,173.68 276.05,177.19 276.30,180.06 276.55,182.42 276.80,184.62 277.05,186.67 277.30,188.60 277.55,190.40 277.80,192.08 278.05,193.67 278.30,195.14 278.55,196.49 278.80,197.75 279.05,198.95 279.30,200.13 279.55,201.31 279.80,202.52 280.05,203.75 280.30,204.96 280.55,206.13 280.70,206.79 280.70,225.10" fill="#0000ff"/>
<polygon points="280.70,225.10 280.70,206.79 280.95,206.93 281.20,206.32 281.45,205.78 281.70,205.24 281.95,204.62 282.20,203.83 282.45,202.80 282.70,201.26 282.95,197.73 283.20,192.51 283.45,186.37 283.70,180.06 283.95,173.02 284.20,165.07 284.45,157.37 284.70,149.79 284.95,141.69 285.20,132.15 285.45,121.47 285.70,111.94 285.95,104.52 286.20,97.98 286.45,91.38 286.70,83.76 286.95,75.40 287.20,67.73 287.45,62.12 287.70,57.62 287.95,53.50 288.20,49.95 288.45,47.13 288.70,45.22 288.95,44.19 289.20,43.35 289.45,42.68 289.70,42.21 289.95,42.01 290.20,42.10 290.45,42.47 290.70,43.07 290.95,43.85 291.20,44.75 291.45,46.10 291.70,48.24 291.95,51.08 292.20,54.55 292.45,58.57 292.70,63.06 292.95,70.00 293.20,79.45 293.45,88.48 293.70,95.35 293.95,101.46 294.20,107.26 294.45,113.14 294.70,119.20 294.95,125.26 295.20,131.17 295.45,136.79 295.70,142.01 295.95,147.12 296.20,152.04 296.45,156.57 296.70,160.54 296.95,163.85 297.20,166.79 297.45,169.44 297.70,171.90 297.95,174.21 298.20,176.45 298.45,178.69 298.70,180.99 298.95,183.35 299.20,185.74 299.45,188.12 299.70,190.47 299.95,192.75 300.20,194.93 300.45,196.98 300.70,198.87 300.95,200.56 301.20,202.03 301.45,203.32 301.70,204.50 301.95,205.59 302.20,206.60 302.45,207.55 302.70,208.44 302.95,209.30 303.20,210.12 303.30,210.45 303.30,225.10" fill="#ff0000"/>
<polygon points="303.30,225.10 303.30,210.45 303.55,211.26 303.80,212.05 304.05,212.81 304.30,213.55 304.55,214.27 304.80,214.95 305.05,215.61 305.30,216.23 305.55,216.82 305.80,217.37 306.05,218.97 306.30,219.20 306.55,219.41 306.80,219.60 307.05,219.77 307.30,219.92 307.55,220.05 307.80,220.17 308.05,220.28 308.30,220.37 308.55,220.46 308.80,220.53 309.05,220.60 309.30,220.66 309.55,220.72 309.80,220.76 310.05,220.81 310.30,220.85 310.55,220.88 310.80,220.91 311.05,220.94 311.30,220.96 311.55,220.98 311.80,221.00 312.05,221.02 312.30,221.04 312.55,221.05 312.80,221.06 313.05,221.07 313.30,221.08 313.55,221.09 313.80,221.10 314.05,221.11 314.30,221.11 314.55,221.12 314.80,221.12 315.05,221.13 315.30,221.13 315.55,221.13 315.80,221.14 316.05,221.14 316.30,221.14 316.55,221.14 316.80,221.15 317.05,221.15 317.30,221.15 317.55,221.15 317.80,221.15 318.05,221.15 318.30,221.15 318.55,221.16 318.80,221.16 319.05,221.16 319.30,221.16 319.55,221.16 319.80,221.16 320.05,221.16 320.30,221.16 320.55,221.16 320.80,221.16 321.05,221.16 321.30,221.16 321.55,221.16 321.80,221.16 322.05,221.16 322.30,221.16 322.55,221.16 322.80,221.16 323.05,221.16 323.30,221.16 323.55,221.16 323.80,221.16 324.05,221.16 324.30,221.16 324.55,221.16 324.80,221.16 325.05,221.16 325.30,221.16 325.55,221.16 325.80,221.16 326.05,221.16 326.30,221.16 326.55,221.16 326.80,221.16 327.05,221.16 327.30,221.16 327.55,221.16 327.80,221.16 328.05,221.16 328.30,221.16 328.55,221.16 328.80,221.16 329.05,221.16 329.30,221.16 329.55,221.16 329.80,221.16 330.05,221.16 330.30,221.16 330.55,221.16 330.80,221.16 331.05,221.16 331.30,221.16 331.55,221.16 331.80,221.16 332.05,221.16 332.30,221.16 332.55,221.16 332.80,221.16 333.05,221.16 333.30,221.16 333.55,221.16 333.80,221.16 334.05,221.16 334.30,221.16 334.55,221.16 334.80,221.16 335.05,221.16 335.30,221.16 335.55,221.16 335.80,221.16 336.05,221.16 336.30,221.16 336.55,221.16 336.80,221.16 337.05,221.16 337.30,221.16 337.55,221.16 337.80,221.16 338.05,221.16 338.30,221.16 338.55,221.16 338.80,221.16 339.05,221.16 339.30,221.16 339.55,221.16 339.80,221.16 340.05,221.16 340.30,221.16 340.55,221.16 340.80,221.16 341.05,221.16 341.30,221.16 341.55,221.16 341.80,221.16 342.05,221.16 342.30,221.16 342.55,221.16 342.80,221.16 343.05,221.16 343.30,221.16 343.55,221.16 343.80,221.16 344.05,221.16 344.30,221.16 344.55,221.16 344.80,221.16 345.05,221.16 345.30,221.16 345.55,221.16 345.80,221.16 346.05,221.16 346.30,221.16 346.55,221.16 346.80,221.16 347.05,221.16 347.30,221.16 347.55,221.16 347.80,221.16 348.05,221.16 348.30,221.16 348.55,221.16 348.80,221.16 349.05,221.16 349.30,221.16 349.55,221.16 349.80,221.16 350.05,221.16 350.30,221.16 350.55,221.16 350.80,221.16 351.05,221.16 351.30,221.16 351.55,221.16 351.80,221.16 352.05,221.16 352.30,221.16 352.55,221.16 352.80,221.16 353.05,221.16 353.30,221.16 353.55,221.16 353.80,221.16 354.05,221.16 354.30,221.16 354.55,221.16 354.80,221.16 355.05,221.16 355.30,221.16 355.55,221.16 355.80,221.16 356.05,221.16 356.30,221.16 356.55,221.16 356.80,221.16 357.05,221.16 357.30,221.16 357.55,221.16 357.80,221.16 358.05,221.16 358.30,221.16 358.55,221.16 358.80,221.16 359.05,221.16 359.30,221.16 359.55,221.16 359.80,221.16 360.05,221.16 360.30,221.16 360.55,221.16 360.80,221.16 361.05,221.16 361.30,221.16 361.55,221.16 361.80,221.16 362.05,221.16 362.30,221.16 362.55,221.16 362.80,221.16 363.05,221.16 363.30,221.16 363.55,221.16 363.80,221.16 364.05,221.16 364.30,221.16 364.55,221.16 364.80,221.16 365.05,221.16 365.30,221.16 365.55,221.16 365.80,221.16 366.05,221.16 366.30,221.16 366.55,221.16 366.80,221.16 367.05,221.16 367.30,221.16 367.55,221.16 367.80,221.16 368.05,221.16 368.30,221.16 368.55,221.16 368.80,221.16 369.05,221.16 369.30,221.16 369.55,221.16 369.80,221.16 370.05,221.16 370.30,221.16 370.55,221.16 370.80,221.16 371.05,221.16 371.30,221.16 371.55,221.16 371.80,221.16 372.05,221.16 372.30,221.16 372.55,221.16 372.80,221.16 373.05,221.16 373.30,221.16 373.55,221.16 373.80,221.16 374.05,221.16 374.30,221.16 374.55,221.16 374.80,221.16 375.05,221.16 375.30,221.16 375.55,221.16 375.80,221.16 376.05,221.16 376.30,221.16 376.55,221.16 376.80,221.16 377.05,221.16 377.30,221.16 377.55,221.16 377.80,221.16 378.05,221.16 378.30,221.16 378.55,221.16 378.80,221.16 379.05,221.16 379.30,221.16 379.55,221.16 379.80,221.16 380.05,221.16 380.30,221.16 380.55,221.16 380.80,221.16 381.05,221.16 381.30,221.16 381.55,221.16 381.80,221.16 382.05,221.16 382.30,221.16 382.55,221.16 382.80,221.16 383.05,221.16 383.30,221.16 383.55,221.16 383.80,221.16 384.05,221.16 384.30,221.16 384.55,221.16 384.80,221.16 385.05,221.16 385.30,221.16 385.55,221.16 385.80,221.16 386.05,221.16 386.30,221.16 386.55,221.16 386.80,221.16 387.05,221.16 387.30,221.15 387.55,221.15 387.80,221.15 388.05,221.15 388.30,221.14 388.55,221.14 388.80,221.14 389.05,221.14 389.30,221.13 389.55,221.13 389.80,221.13 390.05,221.13 390.30,221.12 390.55,221.12 390.80,221.12 391.05,221.11 391.30,221.11 391.55,221.11 391.80,221.10 392.05,221.10 392.30,221.10 392.55,221.09 392.80,221.09 393.05,221.09 393.30,221.08 393.55,221.08 393.80,221.07 394.05,221.07 394.30,221.07 394.55,221.06 394.80,221.06 395.05,221.06 395.30,221.05 395.55,221.05 395.80,221.04 396.05,221.04 396.30,221.04 396.55,221.03 396.80,221.03 397.05,221.02 397.30,221.02 397.55,221.02 397.80,221.01 398.05,221.01 398.30,221.00 398.55,221.00 398.80,221.00 399.05,220.99 399.30,220.99 399.55,220.98 399.80,220.98 400.05,220.97 400.30,220.97 400.55,220.97 400.80,220.96 401.05,220.96 401.30,220.95 401.55,220.95 401.80,220.94 402.05,220.94 402.30,220.93 402.55,220.93 402.80,220.93 403.05,220.92 403.30,220.92 403.55,220.91 403.80,220.91 404.05,220.90 404.30,220.90 404.55,220.89 404.80,220.89 405.05,220.88 405.30,220.88 405.55,220.87 405.80,220.87 406.05,220.86 406.30,220.86 406.55,220.85 406.80,220.85 407.05,220.84 407.30,220.84 407.55,220.84 407.80,220.83 408.05,220.83 408.30,220.82 408.55,220.82 408.80,220.81 409.05,220.81 409.30,220.80 409.55,220.80 409.80,220.79 410.05,220.79 410.30,220.78 410.55,220.77 410.80,220.77 411.05,220.76 411.30,220.76 411.55,220.75 411.80,220.75 412.05,220.74 412.30,220.74 412.55,220.73 412.80,220.73 413.05,220.72 413.30,220.72 413.55,220.71 413.80,220.71 414.05,220.70 414.30,220.70 414.55,220.69 414.80,220.69 415.05,220.68 415.30,220.67 415.55,220.67 415.80,220.66 416.05,220.66 416.30,220.65 416.55,220.65 416.80,220.64 417.05,220.64 417.30,220.63 417.55,220.63 417.80,220.62 418.05,220.61 418.30,220.61 418.55,220.60 418.80,220.60 419.05,220.59 419.30,220.59 419.55,220.58 419.80,220.58 420.05,220.57 420.30,220.56 420.55,220.56 420.80,220.55 421.05,220.55 421.30,220.54 421.55,220.54 421.80,220.53 422.05,220.52 422.30,220.52 422.55,220.51 422.80,220.51 423.05,220.50 423.30,220.50 423.55,220.49 423.80,220.48 424.05,220.48 424.30,220.47 424.55,220.47 424.80,220.46 425.05,220.45 425.30,220.45 425.55,220.44 425.80,220.44 426.05,220.43 426.30,220.42 426.55,220.42 426.80,220.41 427.05,220.41 427.30,220.40 427.55,220.39 427.80,220.39 428.05,220.38 428.30,220.38 428.55,220.37 428.80,220.36 429.05,220.36 429.30,220.35 429.55,220.35 429.80,220.34 430.05,220.33 430.30,220.33 430.55,220.32 430.80,220.32 431.05,220.31 431.30,220.30 431.55,220.30 431.80,220.29 432.05,220.29 432.30,220.28 432.55,220.27 432.80,220.27 433.05,220.26 433.30,220.25 433.55,220.25 433.80,220.24 434.05,220.24 434.30,220.23 434.55,220.22 434.80,220.22 435.05,220.21 435.30,220.20 435.55,220.20 435.80,220.19 436.05,220.19 436.30,220.18 436.55,220.17 436.80,220.17 437.05,220.16 437.30,220.15 437.55,220.15 437.80,220.14 438.05,220.13 438.30,220.13 438.55,220.12 438.80,220.11 439.05,220.11 439.30,220.10 439.55,220.10 439.80,220.09 440.05,220.08 440.30,220.08 440.55,220.07 440.80,220.06 441.05,220.06 441.30,220.05 441.55,220.04 441.80,220.04 442.05,220.03 442.30,220.02 442.55,220.02 442.80,220.01 443.05,220.00 443.30,220.00 443.55,219.99 443.80,219.98 444.05,219.98 444.30,219.97 444.55,219.96 444.80,219.96 445.05,219.95 445.30,219.94 445.55,219.94 445.80,219.93 446.05,219.92 446.30,219.92 446.55,219.91 446.80,219.90 447.05,219.90 447.30,219.89 447.55,219.88 447.80,219.88 448.05,219.87 448.30,219.86 448.55,219.86 448.80,219.85 449.05,219.84 449.30,219.84 449.55,219.83 449.80,219.82 450.05,219.82 450.30,219.81 450.55,219.80 450.80,219.80 451.05,219.79 451.30,219.78 451.55,219.77 451.80,219.77 452.05,219.76 452.30,219.75 452.55,219.75 452.80,219.74 453.05,219.73 453.30,219.73 453.55,219.72 453.80,219.71 454.05,219.71 454.30,219.70 454.55,219.69 454.80,219.68 455.05,219.68 455.30,219.67 455.55,219.66 455.80,219.66 456.05,219.65 456.30,219.64 456.55,219.64 456.80,219.63 457.05,219.62 457.30,219.61 457.55,219.61 457.80,219.60 458.05,219.59 458.30,219.59 458.55,219.58 458.80,219.57 459.05,219.57 459.30,219.56 459.55,219.55 459.80,219.54 460.05,219.54 460.30,219.53 460.55,219.52 460.80,219.52 461.05,219.52 461.30,219.52 461.55,219.52 461.80,219.52 462.05,219.52 462.30,219.52 462.55,219.52 462.80,219.52 463.05,219.52 463.30,220.62 463.55,220.63 463.80,220.63 464.05,220.64 464.30,220.65 464.55,220.65 464.80,220.66 465.05,220.67 465.30,220.67 465.55,220.68 465.80,220.69 466.05,220.69 466.30,220.70 466.55,220.71 466.80,220.71 467.05,220.72 467.30,220.72 467.55,220.73 467.80,220.73 468.05,220.74 468.30,220.74 468.55,220.75 468.80,220.75 469.05,220.76 469.30,220.76 469.55,220.77 469.80,220.77 470.05,220.78 470.30,220.78 470.55,220.78 470.80,220.79 471.05,220.79 471.30,220.80 471.55,220.80 471.80,220.80 472.05,220.81 472.30,220.81 472.55,220.81 472.80,220.82 473.05,220.82 473.30,220.82 473.55,220.83 473.80,220.83 474.05,220.83 474.30,220.84 474.55,220.84 474.80,220.84 475.05,220.85 475.30,220.85 475.55,220.85 475.80,220.85 476.05,220.86 476.30,220.86 476.55,220.86 476.80,220.86 477.05,220.87 477.30,220.87 477.55,220.87 477.80,220.87 478.05,220.88 478.30,220.88 478.55,220.88 478.80,220.88 479.05,220.88 479.30,220.89 479.55,220.89 479.80,220.89 480.05,220.89 480.30,220.89 480.55,220.90 480.80,220.90 481.05,220.90 481.30,220.90 481.55,220.90 481.80,220.90 482.05,220.91 482.30,220.91 482.55,220.91 482.80,220.91 483.05,220.91 483.30,220.91 483.55,220.91 483.80,220.92 484.05,220.92 484.30,220.92 484.55,220.92 484.80,220.92 485.05,220.92 485.30,220.92 485.55,220.93 485.80,220.93 486.05,220.93 486.30,220.93 486.55,220.93 486.80,220.93 487.05,220.93 487.30,220.93 487.55,220.93 487.80,220.93 488.05,220.94 488.30,220.94 488.55,220.94 488.80,220.94 489.05,220.94 489.30,220.94 489.55,220.94 489.80,220.94 490.05,220.94 490.30,220.94 490.55,220.94 490.80,220.94 491.05,220.95 491.30,220.95 491.55,220.95 491.80,220.95 492.05,220.95 492.30,220.95 492.55,220.95 492.80,220.95 493.05,220.95 493.30,220.95 493.55,220.95 493.80,220.95 494.05,220.95 494.30,220.95 494.55,220.95 494.80,220.96 495.05,220.96 495.30,220.96 495.55,220.96 495.80,220.96 496.05,220.96 496.30,220.96 496.55,220.96 496.80,220.96 497.05,220.96 497.30,220.96 497.55,220.96 497.80,220.96 498.05,220.96 498.30,220.96 498.55,220.96 498.80,220.96 499.05,220.96 499.30,220.96 499.55,220.96 499.80,220.96 500.05,220.96 500.30,220.96 500.55,220.96 500.80,220.97 501.05,220.97 501.30,220.97 501.55,220.97 501.80,220.97 502.05,220.97 502.30,220.97 502.55,220.97 502.80,220.97 503.05,220.97 503.30,220.97 503.55,220.97 503.80,220.97 504.05,220.97 504.30,220.97 504.55,220.97 504.80,220.97 505.05,220.97 505.30,220.97 505.55,220.97 505.80,220.97 506.05,220.97 506.30,220.97 506.55,220.97 506.80,220.97 507.05,220.97 507.30,220.97 507.55,220.97 507.80,220.97 508.05,220.97 508.30,220.97 508.55,220.97 508.80,220.97 509.05,220.97 509.30,220.97 509.55,220.97 509.80,220.97 510.05,220.97 510.30,220.97 510.55,220.97 510.80,220.97 511.05,220.97 511.30,220.97 511.55,220.97 511.80,220.97 512.05,220.97 512.30,220.97 512.55,220.97 512.80,220.97 513.05,220.97 513.30,220.97 513.55,220.98 513.80,220.98 514.05,220.98 514.30,220.98 514.55,220.98 514.80,220.98 515.05,220.98 515.30,220.98 515.55,220.98 515.80,220.98 516.05,220.98 516.30,220.98 516.55,220.98 516.80,220.98 517.05,220.98 517.30,220.98 517.55,220.98 517.80,220.98 518.05,220.98 518.30,220.98 518.55,220.98 518.80,220.98 519.05,220.98 519.30,220.98 519.55,220.98 519.80,220.98 520.05,220.98 520.30,220.98 520.55,220.98 520.80,220.98 521.05,220.98 521.30,220.98 521.55,220.98 521.80,220.98 522.05,220.98 522.30,220.98 522.55,220.98 522.80,220.98 523.05,220.98 523.30,220.98 523.55,220.98 523.80,220.98 524.05,220.98 524.30,220.98 524.55,220.98 524.80,220.98 525.05,220.98 525.30,220.98 525.55,220.98 525.80,220.98 526.05,220.98 526.30,220.98 526.55,220.98 526.80,220.98 527.05,220.98 527.30,220.98 527.55,220.98 527.80,220.98 528.05,220.98 528.30,220.98 528.55,220.98 528.80,220.98 529.05,220.98 529.30,220.98 529.55,220.98 529.80,220.98 530.05,220.98 530.30,220.98 530.55,220.98 530.80,220.98 531.05,220.98 531.30,220.98 531.55,220.98 531.80,220.98 532.05,220.98 532.30,220.98 532.55,220.98 532.80,220.98 533.05,220.98 533.30,220.98 533.55,220.98 533.80,220.98 534.05,220.98 534.30,220.98 534.55,220.98 534.80,220.98 535.05,220.98 535.30,220.98 535.55,220.98 535.80,220.98 536.05,220.98 536.30,220.98 536.55,220.98 536.80,220.98 537.05,220.98 537.30,220.98 537.55,220.98 537.80,220.98 538.05,220.98 538.30,220.98 538.55,220.98 538.80,220.98 539.05,220.98 539.30,220.98 539.55,220.98 539.80,220.98 540.05,220.98 540.30,220.98 540.55,220.98 540.80,220.98 541.00,220.98 541.00,225.10" fill="#990099"/>
</g>
<path d="M263.6 213.50H540.4" stroke="#0a9a1e" stroke-width="2.1" stroke-dasharray="7.7 3.4" fill="none"/>
<g stroke="#ff00ff" stroke-width="1.4" fill="none" stroke-dasharray="5.2 4.25" stroke-dashoffset="2.75">
<path d="M268.8 41.7V245.5"/>
<path d="M280.9 41.7V225.1"/>
<path d="M303.5 41.7V225.1"/>
</g>
<path d="M268.80 266.00V251.80" stroke="#ff00ff" stroke-width="1.5" fill="none"/><path d="M268.80 247.10L266.30 252.30L271.30 252.30Z" fill="#ff00ff"/>
<path d="M280.50 281.20V231.10" stroke="#ff00ff" stroke-width="1.5" fill="none"/><path d="M280.50 226.40L278.00 231.60L283.00 231.60Z" fill="#ff00ff"/>
<path d="M303.50 266.00V231.10" stroke="#ff00ff" stroke-width="1.5" fill="none"/><path d="M303.50 226.40L301.00 231.60L306.00 231.60Z" fill="#ff00ff"/>
<rect x="263.0" y="41.7" width="278.0" height="183.4" fill="none" stroke="#000" stroke-width="1.3"/>
<g stroke="#000" stroke-width="1.2" fill="none">
<path d="M263.70 225.1V229.4"/>
<path d="M312.97 225.1V229.4"/>
<path d="M362.25 225.1V229.4"/>
<path d="M411.52 225.1V229.4"/>
<path d="M460.80 225.1V229.4"/>
<path d="M510.07 225.1V229.4"/>
<path d="M258.4 225.10H263.0"/>
<path d="M258.4 188.48H263.0"/>
<path d="M258.4 151.86H263.0"/>
<path d="M258.4 115.24H263.0"/>
<path d="M258.4 78.62H263.0"/>
<path d="M258.4 42.00H263.0"/>
</g>
<text x="263.70" y="246.1" font-size="14.3" text-anchor="middle">0</text>
<text x="312.97" y="246.1" font-size="14.3" text-anchor="middle">250</text>
<text x="362.25" y="246.1" font-size="14.3" text-anchor="middle">500</text>
<text x="411.52" y="246.1" font-size="14.3" text-anchor="middle">750</text>
<text x="460.80" y="246.1" font-size="14.3" text-anchor="middle">1000</text>
<text x="510.07" y="246.1" font-size="14.3" text-anchor="middle">1250</text>
<text x="253.2" y="230.30" font-size="14.3" text-anchor="end">0.0</text>
<text x="253.2" y="193.68" font-size="14.3" text-anchor="end">0.2</text>
<text x="253.2" y="157.06" font-size="14.3" text-anchor="end">0.4</text>
<text x="253.2" y="120.44" font-size="14.3" text-anchor="end">0.6</text>
<text x="253.2" y="83.82" font-size="14.3" text-anchor="end">0.8</text>
<text x="253.2" y="47.20" font-size="14.3" text-anchor="end">1.0</text>
<text x="227.8" y="14.3" font-size="13" textLength="14.6" lengthAdjust="spacingAndGlyphs">(b)</text>
<text x="290.6" y="33.9" font-size="15.4" textLength="249.8" lengthAdjust="spacingAndGlyphs">Wavenumber Response Function (WRF)</text>
<text transform="translate(228.6 207) rotate(-90)" font-size="15.8" textLength="145" lengthAdjust="spacingAndGlyphs">Normalized Amplitude</text>
<text x="347.6" y="209.0" font-size="15.6" textLength="103.4" lengthAdjust="spacingAndGlyphs" class="bd">mean amplitude,</text>
<text x="454.6" y="209.0" font-size="14.6" class="si" style="stroke:#000;stroke-width:0.15px">V</text>
<path d="M457.8 198.7H463.2" stroke="#000" stroke-width="1"/>
<g transform="translate(379.3 262.0)" style="stroke:#000;stroke-width:0.15px"><text x="0" y="0" font-size="14.6" class="si">κ</text><text x="11.6" y="0" font-size="14.6" class="si">(</text><text x="17.2" y="0" font-size="14.6" class="si" textLength="10.2" lengthAdjust="spacingAndGlyphs">m</text><text x="29.5" y="-4.6" font-size="10.4" textLength="11.4" lengthAdjust="spacing">−1</text><text x="42.9" y="0" font-size="14.6" class="si">)</text></g>
<text x="257.9" y="274.4" font-size="12.0" class="m" style="stroke:#000;stroke-width:0.2px">κ</text><text x="265.9" y="277.0" font-size="8.4" class="sb" textLength="9.4" lengthAdjust="spacing">in</text>
<text x="277.4" y="289.6" font-size="12.0" class="m" style="stroke:#000;stroke-width:0.2px">κ</text><text x="285.2" y="292.4" font-size="8.4" class="sb" textLength="35.4" lengthAdjust="spacing">trough</text>
<text x="300.9" y="274.4" font-size="12.0" class="m" style="stroke:#000;stroke-width:0.2px">κ</text><text x="308.8" y="277.0" font-size="8.4" class="sb" textLength="16.2" lengthAdjust="spacing">out</text>
<rect x="319.9" y="63.1" width="85.4" height="115.4" fill="#fff" stroke="#000" stroke-width="1.4"/>
<polygon points="320.40,134.00 320.40,129.82 320.65,129.82 320.90,129.82 321.15,129.82 321.40,129.82 321.65,129.82 321.90,129.82 322.15,129.82 322.40,129.82 322.65,129.82 322.90,129.82 323.15,129.82 323.40,129.23 323.65,128.11 323.90,126.84 324.15,125.50 324.20,125.23 324.20,134.00" fill="#990099"/>
<polygon points="324.20,134.00 324.20,125.23 324.45,123.70 324.70,121.90 324.95,120.01 325.20,118.19 325.45,116.57 325.70,115.03 325.95,113.48 326.20,112.02 326.45,110.70 326.70,109.61 326.95,108.81 327.20,108.12 327.45,107.47 327.70,106.89 327.95,106.42 328.20,106.10 328.45,105.96 328.70,106.02 328.95,106.28 329.20,106.70 329.45,107.24 329.70,107.87 329.95,108.54 330.20,109.25 330.45,110.28 330.70,111.57 330.95,113.00 331.20,114.45 331.45,115.79 331.70,116.88 331.95,117.77 332.20,118.61 332.45,119.39 332.70,120.12 332.95,120.81 333.20,121.45 333.45,122.05 333.70,122.61 333.95,123.13 334.20,123.61 334.45,124.06 334.70,124.51 334.95,124.96 335.20,125.42 335.45,125.88 335.70,126.35 335.95,126.79 336.10,127.04 336.10,134.00" fill="#0000ff"/>
<polygon points="336.10,134.00 336.10,127.04 336.35,127.09 336.60,126.86 336.85,126.66 337.10,126.45 337.35,126.21 337.60,125.92 337.85,125.52 338.10,124.94 338.35,123.60 338.60,121.61 338.85,119.28 339.10,116.88 339.35,114.20 339.60,111.18 339.85,108.26 340.10,105.37 340.35,102.30 340.60,98.67 340.85,94.61 341.10,90.99 341.35,88.16 341.60,85.68 341.85,83.17 342.10,80.27 342.35,77.10 342.60,74.18 342.85,72.05 343.10,70.34 343.35,68.77 343.60,67.42 343.85,66.35 344.10,65.62 344.35,65.23 344.60,64.91 344.85,64.66 345.10,64.48 345.35,64.40 345.60,64.44 345.85,64.58 346.10,64.81 346.35,65.10 346.60,65.44 346.85,65.96 347.10,66.77 347.35,67.85 347.60,69.17 347.85,70.70 348.10,72.40 348.35,75.04 348.60,78.64 348.85,82.07 349.10,84.68 349.35,87.00 349.60,89.21 349.85,91.44 350.10,93.74 350.35,96.05 350.60,98.30 350.85,100.43 351.10,102.42 351.35,104.36 351.60,106.23 351.85,107.95 352.10,109.46 352.35,110.72 352.60,111.83 352.85,112.84 353.10,113.78 353.35,114.66 353.60,115.51 353.85,116.36 354.10,117.23 354.35,118.13 354.60,119.04 354.85,119.94 355.10,120.84 355.35,121.70 355.60,122.53 355.85,123.31 356.10,124.03 356.35,124.67 356.60,125.23 356.85,125.72 357.10,126.17 357.35,126.58 357.60,126.97 357.85,127.33 358.10,127.67 358.35,127.99 358.60,128.31 358.70,128.43 358.70,134.00" fill="#ff0000"/>
<polygon points="358.70,134.00 358.70,129.82 358.95,130.05 359.20,130.28 359.45,130.50 359.70,130.71 359.95,130.91 360.20,131.11 360.45,131.29 360.70,131.47 360.95,131.64 361.20,131.80 361.45,132.25 361.70,132.32 361.95,132.38 362.20,132.43 362.45,132.48 362.70,132.52 362.95,132.56 363.20,132.60 363.45,132.63 363.70,132.65 363.95,132.68 364.20,132.70 364.45,132.72 364.70,132.73 364.95,132.75 365.20,132.76 365.45,132.78 365.70,132.79 365.95,132.80 366.20,132.81 366.45,132.81 366.70,132.82 366.70,134.00" fill="#990099"/>
<path d="M320.4 130.8H368.4" stroke="#0a9a1e" stroke-width="1.3" stroke-dasharray="4.6 2" fill="none"/>
<g stroke="#1fc83c" stroke-width="1.2" stroke-dasharray="3.6 2" fill="none">
<path d="M345.4 63.6V133.8"/><path d="M328.4 107.5V133.8"/>
</g>
<path d="M328.40 163.00V140.20" stroke="#00e03c" stroke-width="1.5" fill="none"/><path d="M328.40 135.70L325.80 140.70L331.00 140.70Z" fill="#00e03c"/>
<path d="M345.40 154.00V140.20" stroke="#00e03c" stroke-width="1.5" fill="none"/><path d="M345.40 135.70L342.80 140.70L348.00 140.70Z" fill="#00e03c"/>
<path d="M345.4 153.7H362.6" stroke="#00e03c" stroke-width="1.5" fill="none" stroke-linecap="square"/>
<text x="363.8" y="157.9" font-size="10.8" class="m" style="stroke:#000;stroke-width:0.2px">κ</text><text x="371.0" y="160.1" font-size="8.0" class="sb" textLength="29.6" lengthAdjust="spacing">peak2</text>
<text x="324.6" y="173.0" font-size="10.8" class="m" style="stroke:#000;stroke-width:0.2px">κ</text><text x="332.0" y="175.1" font-size="8.0" class="sb" textLength="29.3" lengthAdjust="spacing">peak1</text>
<rect x="411" y="48.6" width="123.4" height="67.4" rx="2.4" fill="#fff" fill-opacity="0.8" stroke="#cccccc" stroke-width="1"/>
<rect x="415.9" y="54.7" width="29.4" height="10.4" fill="#0000ff"/>
<rect x="415.9" y="75.6" width="29.4" height="10.4" fill="#ff0000"/>
<rect x="415.9" y="96.7" width="29.4" height="10.4" fill="#990099"/>
<text x="458" y="63.6" font-size="14.5" class="si" textLength="14.8" lengthAdjust="spacingAndGlyphs">S0</text>
<text x="457.4" y="85.6" font-size="14.5" class="si" textLength="17" lengthAdjust="spacingAndGlyphs">A0</text>
<text x="457.6" y="107.0" font-size="15.3" textLength="70.8" lengthAdjust="spacingAndGlyphs">Anomalous</text>
</svg></body></html>
